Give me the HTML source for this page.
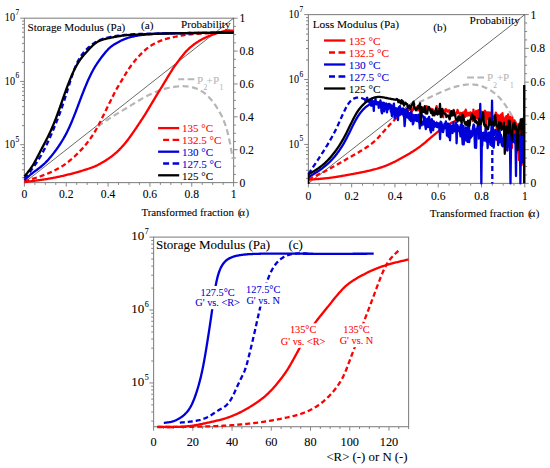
<!DOCTYPE html>
<html><head><meta charset="utf-8"><style>
html,body{margin:0;padding:0;background:#fff;}
svg{display:block;}
text{font-family:"Liberation Serif", serif; stroke-width:0.08px;}
</style></head><body>
<svg width="550" height="468" viewBox="0 0 550 468">
<rect width="550" height="468" fill="#fff"/>
<rect x="24.4" y="18.2" width="209.2" height="164.4" fill="none" stroke="#858585" stroke-width="1.1"/>
<path d="M24.4,177.72 h-2.4 M24.4,169.82 h-2.4 M24.4,163.7 h-2.4 M24.4,158.69 h-2.4 M24.4,154.46 h-2.4 M24.4,150.79 h-2.4 M24.4,147.55 h-2.4 M24.4,144.66 h-4.2 M24.4,125.63 h-2.4 M24.4,114.49 h-2.4 M24.4,106.59 h-2.4 M24.4,100.47 h-2.4 M24.4,95.46 h-2.4 M24.4,91.23 h-2.4 M24.4,87.56 h-2.4 M24.4,84.32 h-2.4 M24.4,81.43 h-4.2 M24.4,62.4 h-2.4 M24.4,51.26 h-2.4 M24.4,43.36 h-2.4 M24.4,37.23 h-2.4 M24.4,32.23 h-2.4 M24.4,27.99 h-2.4 M24.4,24.33 h-2.4 M24.4,21.09 h-2.4 M24.4,18.2 h-4.2 M24.4,182.6 v4.0 M233.6,182.6 h4.0 M34.86,182.6 v2.3 M233.6,174.38 h2.3 M45.32,182.6 v2.3 M233.6,166.16 h2.3 M55.78,182.6 v2.3 M233.6,157.94 h2.3 M66.24,182.6 v4.0 M233.6,149.72 h4.0 M76.7,182.6 v2.3 M233.6,141.5 h2.3 M87.16,182.6 v2.3 M233.6,133.28 h2.3 M97.62,182.6 v2.3 M233.6,125.06 h2.3 M108.08,182.6 v4.0 M233.6,116.84 h4.0 M118.54,182.6 v2.3 M233.6,108.62 h2.3 M129,182.6 v2.3 M233.6,100.4 h2.3 M139.46,182.6 v2.3 M233.6,92.18 h2.3 M149.92,182.6 v4.0 M233.6,83.96 h4.0 M160.38,182.6 v2.3 M233.6,75.74 h2.3 M170.84,182.6 v2.3 M233.6,67.52 h2.3 M181.3,182.6 v2.3 M233.6,59.3 h2.3 M191.76,182.6 v4.0 M233.6,51.08 h4.0 M202.22,182.6 v2.3 M233.6,42.86 h2.3 M212.68,182.6 v2.3 M233.6,34.64 h2.3 M223.14,182.6 v2.3 M233.6,26.42 h2.3 M233.6,182.6 v4.0 M233.6,18.2 h4.0" fill="none" stroke="#858585" stroke-width="1"/>
<path d="M24.4,182.6 L233.6,18.2" stroke="#444" stroke-width="0.8"/>
<path d="M98,126.49 98.9,125.81 99.8,125.13 100.7,124.46 101.6,123.81 102.5,123.16 103.4,122.52 104.3,121.9 105.2,121.28 106.1,120.68 107,120.08 107.9,119.49 108.8,118.9 109.7,118.32 110.6,117.75 111.5,117.19 112.4,116.63 113.3,116.08 114.2,115.52 115.1,114.98 116,114.43 116.9,113.89 117.8,113.35 118.7,112.81 119.6,112.28 120.5,111.74 121.4,111.2 122.3,110.67 123.2,110.13 124.1,109.59 125,109.04 125.9,108.5 126.8,107.95 127.7,107.4 128.6,106.84 129.5,106.29 130.4,105.73 131.3,105.17 132.2,104.61 133.1,104.05 134,103.5 134.9,102.94 135.8,102.39 136.7,101.84 137.6,101.29 138.5,100.75 139.4,100.21 140.3,99.68 141.2,99.16 142.1,98.64 143,98.13 143.9,97.63 144.8,97.14 145.7,96.66 146.6,96.18 147.5,95.72 148.4,95.27 149.3,94.82 150.2,94.39 151.1,93.96 152,93.55 152.9,93.15 153.8,92.75 154.7,92.37 155.6,92 156.5,91.64 157.4,91.29 158.3,90.95 159.2,90.62 160.1,90.3 161,90 161.9,89.7 162.8,89.42 163.7,89.15 164.6,88.89 165.5,88.64 166.4,88.4 167.3,88.18 168.2,87.96 169.1,87.76 170,87.57 170.9,87.4 171.8,87.23 172.7,87.08 173.6,86.94 174.5,86.81 175.4,86.69 176.3,86.59 177.2,86.5 178.1,86.42 179,86.35 179.9,86.3 180.8,86.26 181.7,86.23 182.6,86.22 183.5,86.22 184.4,86.24 185.3,86.28 186.2,86.33 187.1,86.41 188,86.51 188.9,86.62 189.8,86.77 190.7,86.93 191.6,87.12 192.5,87.34 193.4,87.58 194.3,87.85 195.2,88.15 196.1,88.48 197,88.84 197.9,89.23 198.8,89.65 199.7,90.1 200.6,90.59 201.5,91.11 202.4,91.68 203.3,92.28 204.2,92.93 205.1,93.63 206,94.38 206.9,95.17 207.8,96.02 208.7,96.93 209.6,97.89 210.2,98.56 210.8,99.25 211.4,99.97 212,100.71 212.6,101.47 213.2,102.26 213.8,103.06 214.4,103.89 215,104.73 215.6,105.6 216.2,106.48 216.8,107.39 217.4,108.32 218,109.28 218.6,110.27 219.2,111.3 219.8,112.36 220.4,113.46 221,114.61 221.6,115.81 222.2,117.06 222.8,118.38 223.4,119.77 224,121.24 224.6,122.81 225.2,124.48 225.5,125.36 225.8,126.27 226.1,127.2 226.4,128.17 226.7,129.18 227,130.22 227.3,131.31 227.6,132.44 227.9,133.61 228.2,134.84 228.5,136.11 228.8,137.43 229.1,138.81 229.4,140.25 229.7,141.74 230,143.28 230.3,144.87 230.6,146.51 230.9,148.18 231.2,149.9 231.5,151.65 231.8,153.43 232.1,155.25 232.4,157.08 232.7,158.92 232.7,158.92" fill="none" stroke="#b6b6b6" stroke-width="2.2" stroke-dasharray="6,3.5" stroke-linejoin="round" stroke-linecap="butt"/>
<path d="M24.4,182.1 25.3,181.99 26.2,181.87 27.1,181.76 28,181.64 28.9,181.52 29.8,181.41 30.7,181.29 31.6,181.17 32.5,181.06 33.4,180.94 34.3,180.82 35.2,180.7 36.1,180.58 37,180.46 37.9,180.34 38.8,180.22 39.7,180.09 40.6,179.97 41.5,179.84 42.4,179.71 43.3,179.57 44.2,179.44 45.1,179.3 46,179.16 46.9,179.02 47.8,178.87 48.7,178.72 49.6,178.56 50.5,178.4 51.4,178.24 52.3,178.07 53.2,177.9 54.1,177.73 55,177.55 55.9,177.37 56.8,177.18 57.7,176.99 58.6,176.8 59.5,176.61 60.4,176.41 61.3,176.21 62.2,176 63.1,175.79 64,175.58 64.9,175.37 65.8,175.15 66.7,174.93 67.6,174.71 68.5,174.48 69.4,174.26 70.3,174.02 71.2,173.79 72.1,173.55 73,173.31 73.9,173.07 74.8,172.83 75.7,172.58 76.6,172.33 77.5,172.08 78.4,171.82 79.3,171.56 80.2,171.3 81.1,171.04 82,170.77 82.9,170.49 83.8,170.22 84.7,169.94 85.6,169.66 86.5,169.37 87.4,169.08 88.3,168.78 89.2,168.48 90.1,168.17 91,167.85 91.9,167.53 92.8,167.18 93.7,166.83 94.6,166.46 95.5,166.07 96.4,165.67 97.3,165.24 98.2,164.8 99.1,164.33 100,163.86 100.9,163.36 101.8,162.85 102.7,162.32 103.6,161.78 104.5,161.23 105.4,160.66 106.3,160.08 107.2,159.49 108.1,158.88 109,158.26 109.9,157.63 110.8,156.97 111.7,156.3 112.6,155.61 113.5,154.89 114.4,154.16 115.3,153.39 116.2,152.61 117.1,151.79 118,150.95 118.9,150.07 119.8,149.17 120.7,148.24 121.6,147.28 122.5,146.28 123.1,145.61 123.7,144.92 124.3,144.21 124.9,143.5 125.5,142.77 126.1,142.03 126.7,141.27 127.3,140.5 127.9,139.72 128.5,138.92 129.1,138.12 129.7,137.3 130.3,136.47 130.9,135.63 131.5,134.78 132.1,133.92 132.7,133.06 133.3,132.19 133.9,131.32 134.5,130.44 135.1,129.55 135.7,128.66 136.3,127.77 136.9,126.88 137.5,125.99 138.1,125.09 138.7,124.2 139.3,123.3 139.9,122.4 140.5,121.5 141.1,120.6 141.7,119.69 142.3,118.77 142.9,117.85 143.5,116.92 144.1,115.98 144.7,115.03 145.3,114.08 145.9,113.12 146.5,112.14 147.1,111.16 147.7,110.16 148.3,109.16 148.9,108.16 149.5,107.15 150.1,106.13 150.7,105.12 151.3,104.1 151.9,103.08 152.5,102.07 153.1,101.05 153.7,100.04 154.3,99.04 154.9,98.04 155.5,97.05 156.1,96.06 156.7,95.08 157.3,94.1 157.9,93.12 158.5,92.14 159.1,91.17 159.7,90.2 160.3,89.23 160.9,88.26 161.5,87.29 162.1,86.31 162.7,85.34 163.3,84.37 163.9,83.39 164.5,82.41 165.1,81.42 165.7,80.44 166.3,79.44 166.9,78.45 167.5,77.45 168.1,76.45 168.7,75.46 169.3,74.47 169.9,73.48 170.5,72.51 171.1,71.54 171.7,70.59 172.3,69.65 172.9,68.73 173.5,67.83 174.1,66.95 174.7,66.08 175.3,65.23 175.9,64.39 176.5,63.57 177.1,62.75 177.7,61.95 178.3,61.15 178.9,60.36 179.5,59.57 180.1,58.79 180.7,58.01 181.3,57.24 181.9,56.47 182.5,55.71 183.1,54.97 183.7,54.23 184.3,53.51 184.9,52.81 185.5,52.12 186.4,51.13 187.3,50.19 188.2,49.29 189.1,48.44 190,47.63 190.9,46.85 191.8,46.11 192.7,45.39 193.6,44.71 194.5,44.05 195.4,43.41 196.3,42.79 197.2,42.2 198.1,41.62 199,41.06 199.9,40.52 200.8,40 201.7,39.5 202.6,39.01 203.5,38.55 204.4,38.11 205.3,37.68 206.2,37.27 207.1,36.88 208,36.5 208.9,36.14 209.8,35.79 210.7,35.44 211.6,35.11 212.5,34.78 213.4,34.46 214.3,34.14 215.2,33.82 216.1,33.51 217,33.21 217.9,32.91 218.8,32.62 219.7,32.34 220.6,32.08 221.5,31.82 222.4,31.58 223.3,31.36 224.2,31.15 225.1,30.96 226,30.8 226.9,30.67 227.8,30.58 228.7,30.52 229.6,30.51 230.5,30.54 231.4,30.62 232.3,30.73 233.2,30.85 233.6,30.91" fill="none" stroke="#ff0000" stroke-width="2.3" stroke-linejoin="round" stroke-linecap="butt"/>
<path d="M24.4,181.3 25.3,181.03 26.2,180.77 27.1,180.5 28,180.23 28.9,179.96 29.8,179.69 30.7,179.42 31.6,179.14 32.5,178.86 33.4,178.59 34.3,178.3 35.2,178.02 36.1,177.73 37,177.44 37.9,177.14 38.8,176.84 39.7,176.53 40.6,176.22 41.5,175.91 42.4,175.59 43.3,175.26 44.2,174.93 45.1,174.59 46,174.24 46.9,173.89 47.8,173.53 48.7,173.16 49.6,172.78 50.5,172.39 51.4,171.99 52.3,171.58 53.2,171.16 54.1,170.73 55,170.28 55.9,169.82 56.8,169.35 57.7,168.86 58.6,168.36 59.5,167.84 60.4,167.31 61.3,166.76 62.2,166.19 63.1,165.6 64,165 64.9,164.37 65.8,163.73 66.7,163.07 67.6,162.38 68.5,161.68 69.4,160.96 70.3,160.23 71.2,159.47 72.1,158.69 73,157.9 73.9,157.09 74.8,156.25 75.7,155.4 76.6,154.53 77.5,153.64 78.4,152.74 79.3,151.81 80.2,150.87 81.1,149.91 82,148.93 82.9,147.92 83.5,147.24 84.1,146.55 84.7,145.85 85.3,145.14 85.9,144.41 86.5,143.67 87.1,142.91 87.7,142.15 88.3,141.36 88.9,140.56 89.5,139.75 90.1,138.92 90.7,138.07 91.3,137.2 91.9,136.31 92.5,135.41 93.1,134.48 93.7,133.54 94.3,132.57 94.9,131.58 95.5,130.57 96.1,129.54 96.7,128.48 97.3,127.4 97.9,126.29 98.5,125.17 99.1,124.02 99.7,122.86 100.3,121.68 100.9,120.48 101.5,119.28 102.1,118.06 102.7,116.84 103.3,115.61 103.9,114.38 104.5,113.14 105.1,111.91 105.7,110.67 106.3,109.44 106.9,108.22 107.5,107 108.1,105.78 108.7,104.56 109.3,103.35 109.9,102.14 110.5,100.93 111.1,99.72 111.7,98.51 112.3,97.3 112.9,96.11 113.5,94.92 114.1,93.74 114.7,92.58 115.3,91.44 115.9,90.32 116.5,89.23 117.1,88.16 117.7,87.1 118.3,86.07 118.9,85.04 119.5,84.03 120.1,83.03 120.7,82.03 121.3,81.04 121.9,80.04 122.5,79.04 123.1,78.03 123.7,77.03 124.3,76.03 124.9,75.03 125.5,74.05 126.1,73.07 126.7,72.11 127.3,71.16 127.9,70.23 128.5,69.32 129.1,68.43 129.7,67.56 130.3,66.72 130.9,65.88 131.5,65.07 132.1,64.28 132.7,63.5 133.3,62.73 133.9,61.98 134.5,61.24 135.1,60.52 135.7,59.81 136.3,59.11 136.9,58.42 137.5,57.75 138.4,56.75 139.3,55.77 140.2,54.81 141.1,53.88 142,52.97 142.9,52.09 143.8,51.24 144.7,50.42 145.6,49.64 146.5,48.89 147.4,48.18 148.3,47.5 149.2,46.85 150.1,46.23 151,45.64 151.9,45.07 152.8,44.53 153.7,44.02 154.6,43.52 155.5,43.05 156.4,42.6 157.3,42.17 158.2,41.76 159.1,41.37 160,41.01 160.9,40.66 161.8,40.33 162.7,40.02 163.6,39.72 164.5,39.44 165.4,39.17 166.3,38.91 167.2,38.67 168.1,38.43 169,38.2 169.9,37.98 170.8,37.77 171.7,37.56 172.6,37.35 173.5,37.15 174.4,36.95 175.3,36.75 176.2,36.56 177.1,36.37 178,36.19 178.9,36.01 179.8,35.84 180.7,35.68 181.6,35.53 182.5,35.38 183.4,35.24 184.3,35.1 185.2,34.98 186.1,34.86 187,34.75 187.9,34.65 188.8,34.55 189.7,34.46 190.6,34.38 191.5,34.3 192.4,34.22 193.3,34.15 194.2,34.08 195.1,34.01 196,33.95 196.9,33.89 197.8,33.83 198.7,33.77 199.6,33.71 200.5,33.66 201.4,33.61 202.3,33.56 203.2,33.51 204.1,33.47 205,33.42 205.9,33.38 206.8,33.34 207.7,33.3 208.6,33.26 209.5,33.22 210.4,33.18 211.3,33.15 212.2,33.11 213.1,33.08 214,33.05 214.9,33.02 215.8,32.99 216.7,32.96 217.6,32.93 218.5,32.9 219.4,32.87 220.3,32.85 221.2,32.82 222.1,32.79 223,32.77 223.9,32.74 224.8,32.72 225.7,32.7 226.6,32.67 227.5,32.65 228.4,32.63 229.3,32.6 230.2,32.58 231.1,32.56 232,32.54 232.9,32.52 233.6,32.5" fill="none" stroke="#ff0000" stroke-width="2.3" stroke-dasharray="5,3" stroke-linejoin="round" stroke-linecap="butt"/>
<path d="M24.4,180.26 25.3,179.4 26.2,178.53 27.1,177.68 28,176.85 28.9,176.03 29.8,175.24 30.7,174.48 31.6,173.75 32.5,173.04 33.4,172.36 34.3,171.69 35.2,171.02 36.1,170.36 37,169.71 37.9,169.04 38.8,168.37 39.7,167.68 40.6,166.98 41.5,166.25 42.4,165.49 43.3,164.69 44.2,163.86 45.1,163 46,162.1 46.9,161.16 47.8,160.2 48.7,159.2 49.3,158.52 49.9,157.82 50.5,157.11 51.1,156.39 51.7,155.65 52.3,154.9 52.9,154.14 53.5,153.37 54.1,152.59 54.7,151.79 55.3,150.98 55.9,150.17 56.5,149.34 57.1,148.5 57.7,147.65 58.3,146.78 58.9,145.9 59.5,145.01 60.1,144.1 60.7,143.17 61.3,142.22 61.9,141.25 62.5,140.26 63.1,139.25 63.7,138.22 64.3,137.16 64.9,136.08 65.5,134.97 66.1,133.84 66.7,132.67 67.3,131.48 67.9,130.26 68.5,129 69.1,127.72 69.7,126.4 70.3,125.05 70.9,123.67 71.5,122.27 72.1,120.84 72.7,119.38 73.3,117.9 73.9,116.41 74.5,114.89 75.1,113.35 75.7,111.81 76.3,110.24 76.9,108.67 77.5,107.09 78.1,105.5 78.7,103.9 79.3,102.31 79.9,100.71 80.5,99.12 81.1,97.53 81.7,95.96 82.3,94.39 82.9,92.84 83.5,91.3 84.1,89.79 84.7,88.29 85.3,86.82 85.9,85.37 86.5,83.94 87.1,82.54 87.7,81.16 88.3,79.81 88.9,78.49 89.5,77.19 90.1,75.93 90.7,74.69 91.3,73.49 91.9,72.31 92.5,71.17 93.1,70.06 93.7,68.99 94.3,67.95 94.9,66.94 95.5,65.96 96.1,65 96.7,64.07 97.3,63.17 97.9,62.28 98.5,61.42 99.1,60.57 99.7,59.73 100.3,58.91 100.9,58.11 101.5,57.31 102.1,56.52 102.7,55.74 103.3,54.96 103.9,54.2 104.5,53.46 105.1,52.73 105.7,52.01 106.3,51.32 106.9,50.65 107.8,49.68 108.7,48.77 109.6,47.93 110.5,47.15 111.4,46.43 112.3,45.75 113.2,45.13 114.1,44.54 115,43.98 115.9,43.44 116.8,42.92 117.7,42.41 118.6,41.92 119.5,41.45 120.4,40.99 121.3,40.55 122.2,40.13 123.1,39.73 124,39.34 124.9,38.98 125.8,38.64 126.7,38.31 127.6,38.01 128.5,37.72 129.4,37.44 130.3,37.19 131.2,36.95 132.1,36.72 133,36.51 133.9,36.3 134.8,36.12 135.7,35.94 136.6,35.77 137.5,35.61 138.4,35.47 139.3,35.33 140.2,35.19 141.1,35.07 142,34.95 142.9,34.84 143.8,34.74 144.7,34.65 145.6,34.55 146.5,34.47 147.4,34.39 148.3,34.31 149.2,34.24 150.1,34.17 151,34.11 151.9,34.05 152.8,33.99 153.7,33.94 154.6,33.88 155.5,33.83 156.4,33.78 157.3,33.74 158.2,33.69 159.1,33.65 160,33.61 160.9,33.57 161.8,33.54 162.7,33.5 163.6,33.47 164.5,33.44 165.4,33.41 166.3,33.38 167.2,33.35 168.1,33.33 169,33.3 169.9,33.28 170.8,33.26 171.7,33.24 172.6,33.22 173.5,33.2 174.4,33.19 175.3,33.17 176.2,33.16 177.1,33.14 178,33.13 178.9,33.12 179.8,33.11 180.7,33.09 181.6,33.08 182.5,33.07 183.4,33.06 184.3,33.06 185.2,33.05 186.1,33.04 187,33.03 187.9,33.02 188.8,33.01 189.7,33 190.6,32.99 191.5,32.98 192.4,32.98 193.3,32.97 194.2,32.96 195.1,32.95 196,32.94 196.9,32.93 197.8,32.92 198.7,32.91 199.6,32.9 200.5,32.89 201.4,32.88 202.3,32.87 203.2,32.86 204.1,32.85 205,32.84 205.9,32.83 206.8,32.82 207.7,32.81 208.6,32.8 209.5,32.79 210.4,32.78 211.3,32.77 212.2,32.76 213.1,32.75 214,32.74 214.9,32.73 215.8,32.72 216.7,32.71 217.6,32.7 218.5,32.69 219.4,32.67 220.3,32.66 221.2,32.65 222.1,32.64 223,32.63 223.9,32.62 224.8,32.61 225.7,32.6 226.6,32.59 227.5,32.58 228.4,32.56 229.3,32.55 230.2,32.54 231.1,32.53 232,32.52 232.9,32.51 233.6,32.5" fill="none" stroke="#0000d8" stroke-width="2.3" stroke-linejoin="round" stroke-linecap="butt"/>
<path d="M24.4,178.51 25,177.8 25.6,177.08 26.2,176.36 26.8,175.63 27.4,174.91 28,174.18 28.6,173.44 29.2,172.7 29.8,171.95 30.4,171.19 31,170.42 31.6,169.64 32.2,168.85 32.8,168.05 33.4,167.24 34,166.41 34.6,165.56 35.2,164.71 35.8,163.83 36.4,162.94 37,162.03 37.6,161.1 38.2,160.16 38.8,159.19 39.4,158.21 40,157.21 40.6,156.18 41.2,155.14 41.8,154.07 42.4,152.99 43,151.88 43.6,150.75 44.2,149.6 44.8,148.42 45.4,147.22 46,146 46.6,144.76 47.2,143.5 47.8,142.22 48.4,140.93 49,139.61 49.6,138.28 50.2,136.93 50.8,135.56 51.4,134.18 52,132.78 52.6,131.37 53.2,129.95 53.8,128.51 54.4,127.06 55,125.6 55.6,124.13 56.2,122.64 56.8,121.13 57.4,119.6 58,118.06 58.6,116.49 59.2,114.89 59.8,113.28 60.4,111.63 61,109.96 61.6,108.26 61.9,107.4 62.2,106.53 62.5,105.65 62.8,104.77 63.1,103.88 63.4,102.99 63.7,102.09 64,101.18 64.3,100.27 64.6,99.35 64.9,98.43 65.2,97.5 65.5,96.56 65.8,95.63 66.1,94.68 66.4,93.73 66.7,92.78 67,91.82 67.3,90.86 67.6,89.9 67.9,88.93 68.2,87.96 68.5,86.98 68.8,86.01 69.1,85.04 69.4,84.07 69.7,83.1 70,82.13 70.3,81.17 70.6,80.22 70.9,79.27 71.2,78.33 71.5,77.4 71.8,76.48 72.1,75.58 72.4,74.68 72.7,73.8 73,72.93 73.3,72.08 73.9,70.43 74.5,68.85 75.1,67.35 75.7,65.92 76.3,64.55 76.9,63.26 77.5,62.03 78.1,60.87 78.7,59.76 79.3,58.71 79.9,57.71 80.5,56.76 81.1,55.86 81.7,55.01 82.3,54.2 82.9,53.43 83.5,52.69 84.1,51.99 84.7,51.32 85.6,50.36 86.5,49.44 87.4,48.56 88.3,47.71 89.2,46.9 90.1,46.12 91,45.37 91.9,44.66 92.8,43.98 93.7,43.35 94.6,42.75 95.5,42.19 96.4,41.68 97.3,41.19 98.2,40.75 99.1,40.33 100,39.95 100.9,39.59 101.8,39.26 102.7,38.96 103.6,38.67 104.5,38.41 105.4,38.16 106.3,37.93 107.2,37.71 108.1,37.51 109,37.31 109.9,37.12 110.8,36.94 111.7,36.77 112.6,36.6 113.5,36.44 114.4,36.29 115.3,36.14 116.2,36 117.1,35.86 118,35.73 118.9,35.6 119.8,35.49 120.7,35.37 121.6,35.26 122.5,35.16 123.4,35.06 124.3,34.97 125.2,34.88 126.1,34.8 127,34.72 127.9,34.64 128.8,34.57 129.7,34.51 130.6,34.44 131.5,34.38 132.4,34.33 133.3,34.27 134.2,34.22 135.1,34.18 136,34.13 136.9,34.09 137.8,34.05 138.7,34.02 139.6,33.98 140.5,33.95 141.4,33.92 142.3,33.89 143.2,33.87 144.1,33.84 145,33.82 145.9,33.79 146.8,33.77 147.7,33.75 148.6,33.73 149.5,33.71 150.4,33.69 151.3,33.67 152.2,33.65 153.1,33.63 154,33.61 154.9,33.59 155.8,33.58 156.7,33.56 157.6,33.54 158.5,33.52 159.4,33.5 160.3,33.49 161.2,33.47 162.1,33.45 163,33.44 163.9,33.42 164.8,33.4 165.7,33.39 166.6,33.37 167.5,33.35 168.4,33.34 169.3,33.32 170.2,33.31 171.1,33.29 172,33.28 172.9,33.26 173.8,33.25 174.7,33.23 175.6,33.22 176.5,33.2 177.4,33.19 178.3,33.17 179.2,33.16 180.1,33.15 181,33.13 181.9,33.12 182.8,33.11 183.7,33.09 184.6,33.08 185.5,33.07 186.4,33.05 187.3,33.04 188.2,33.03 189.1,33.02 190,33 190.9,32.99 191.8,32.98 192.7,32.97 193.6,32.96 194.5,32.94 195.4,32.93 196.3,32.92 197.2,32.91 198.1,32.9 199,32.89 199.9,32.88 200.8,32.86 201.7,32.85 202.6,32.84 203.5,32.83 204.4,32.82 205.3,32.81 206.2,32.8 207.1,32.79 208,32.78 208.9,32.77 209.8,32.76 210.7,32.75 211.6,32.74 212.5,32.73 213.4,32.72 214.3,32.71 215.2,32.7 216.1,32.69 217,32.68 217.9,32.67 218.8,32.66 219.7,32.65 220.6,32.64 221.5,32.63 222.4,32.62 223.3,32.61 224.2,32.6 225.1,32.59 226,32.58 226.9,32.57 227.8,32.56 228.7,32.55 229.6,32.54 230.5,32.53 231.4,32.52 232.3,32.51 233.2,32.5 233.6,32.5" fill="none" stroke="#0000d8" stroke-width="2.3" stroke-dasharray="5,3" stroke-linejoin="round" stroke-linecap="butt"/>
<path d="M24.4,176.53 25,175.81 25.6,175.08 26.2,174.34 26.8,173.6 27.4,172.85 28,172.08 28.6,171.31 29.2,170.51 29.8,169.7 30.4,168.86 31,168 31.6,167.11 32.2,166.19 32.8,165.25 33.4,164.26 34,163.25 34.6,162.2 35.2,161.13 35.8,160.04 36.4,158.93 37,157.8 37.6,156.65 38.2,155.5 38.8,154.34 39.4,153.18 40,152.01 40.6,150.85 41.2,149.69 41.8,148.54 42.4,147.39 43,146.25 43.6,145.11 44.2,143.97 44.8,142.82 45.4,141.66 46,140.5 46.6,139.33 47.2,138.15 47.8,136.95 48.4,135.73 49,134.49 49.6,133.24 50.2,131.96 50.8,130.65 51.4,129.32 52,127.95 52.6,126.56 53.2,125.13 53.8,123.68 54.4,122.19 55,120.68 55.6,119.14 56.2,117.57 56.8,115.98 57.4,114.37 58,112.74 58.6,111.08 59.2,109.4 59.8,107.71 60.1,106.86 60.4,106 60.7,105.14 61,104.28 61.3,103.42 61.6,102.56 61.9,101.69 62.2,100.83 62.5,99.96 62.8,99.1 63.1,98.24 63.4,97.38 63.7,96.52 64,95.66 64.3,94.8 64.6,93.95 65.2,92.26 65.8,90.59 66.4,88.94 67,87.31 67.6,85.71 68.2,84.14 68.8,82.59 69.4,81.07 70,79.58 70.6,78.12 71.2,76.69 71.8,75.3 72.4,73.94 73,72.61 73.6,71.32 74.2,70.06 74.8,68.84 75.4,67.67 76,66.53 76.6,65.43 77.2,64.37 77.8,63.35 78.4,62.37 79,61.42 79.6,60.51 80.2,59.64 80.8,58.81 81.4,58 82,57.22 82.6,56.47 83.2,55.74 83.8,55.03 84.4,54.34 85,53.66 85.9,52.66 86.8,51.67 87.7,50.69 88.6,49.71 89.5,48.74 90.4,47.79 91.3,46.87 92.2,45.99 93.1,45.15 94,44.36 94.9,43.64 95.8,42.98 96.7,42.38 97.6,41.83 98.5,41.34 99.4,40.9 100.3,40.5 101.2,40.14 102.1,39.82 103,39.53 103.9,39.27 104.8,39.03 105.7,38.81 106.6,38.6 107.5,38.41 108.4,38.22 109.3,38.04 110.2,37.86 111.1,37.67 112,37.49 112.9,37.31 113.8,37.13 114.7,36.96 115.6,36.79 116.5,36.62 117.4,36.46 118.3,36.3 119.2,36.15 120.1,36 121,35.86 121.9,35.73 122.8,35.61 123.7,35.49 124.6,35.39 125.5,35.29 126.4,35.2 127.3,35.12 128.2,35.04 129.1,34.97 130,34.91 130.9,34.85 131.8,34.8 132.7,34.75 133.6,34.7 134.5,34.66 135.4,34.62 136.3,34.58 137.2,34.54 138.1,34.5 139,34.46 139.9,34.43 140.8,34.39 141.7,34.36 142.6,34.32 143.5,34.28 144.4,34.25 145.3,34.21 146.2,34.18 147.1,34.14 148,34.11 148.9,34.07 149.8,34.04 150.7,34.01 151.6,33.98 152.5,33.94 153.4,33.91 154.3,33.88 155.2,33.85 156.1,33.82 157,33.79 157.9,33.76 158.8,33.74 159.7,33.71 160.6,33.68 161.5,33.66 162.4,33.63 163.3,33.61 164.2,33.59 165.1,33.56 166,33.54 166.9,33.52 167.8,33.5 168.7,33.48 169.6,33.46 170.5,33.44 171.4,33.42 172.3,33.4 173.2,33.39 174.1,33.37 175,33.35 175.9,33.34 176.8,33.32 177.7,33.31 178.6,33.29 179.5,33.28 180.4,33.26 181.3,33.25 182.2,33.24 183.1,33.22 184,33.21 184.9,33.2 185.8,33.18 186.7,33.17 187.6,33.16 188.5,33.15 189.4,33.14 190.3,33.12 191.2,33.11 192.1,33.1 193,33.09 193.9,33.08 194.8,33.07 195.7,33.06 196.6,33.04 197.5,33.03 198.4,33.02 199.3,33.01 200.2,33 201.1,32.99 202,32.97 202.9,32.96 203.8,32.95 204.7,32.94 205.6,32.92 206.5,32.91 207.4,32.9 208.3,32.89 209.2,32.87 210.1,32.86 211,32.85 211.9,32.83 212.8,32.82 213.7,32.81 214.6,32.79 215.5,32.78 216.4,32.77 217.3,32.75 218.2,32.74 219.1,32.73 220,32.71 220.9,32.7 221.8,32.68 222.7,32.67 223.6,32.66 224.5,32.64 225.4,32.63 226.3,32.61 227.2,32.6 228.1,32.59 229,32.57 229.9,32.56 230.8,32.54 231.7,32.53 232.6,32.52 233.5,32.5 233.6,32.5" fill="none" stroke="#000000" stroke-width="2.3" stroke-linejoin="round" stroke-linecap="butt"/>
<rect x="308.4" y="14.6" width="216.4" height="168.8" fill="none" stroke="#858585" stroke-width="1.1"/>
<path d="M308.4,178.39 h-2.4 M308.4,170.28 h-2.4 M308.4,163.99 h-2.4 M308.4,158.85 h-2.4 M308.4,154.5 h-2.4 M308.4,150.74 h-2.4 M308.4,147.42 h-2.4 M308.4,144.45 h-4.2 M308.4,124.9 h-2.4 M308.4,113.47 h-2.4 M308.4,105.36 h-2.4 M308.4,99.07 h-2.4 M308.4,93.93 h-2.4 M308.4,89.58 h-2.4 M308.4,85.81 h-2.4 M308.4,82.49 h-2.4 M308.4,79.52 h-4.2 M308.4,59.98 h-2.4 M308.4,48.55 h-2.4 M308.4,40.44 h-2.4 M308.4,34.14 h-2.4 M308.4,29 h-2.4 M308.4,24.66 h-2.4 M308.4,20.89 h-2.4 M308.4,17.57 h-2.4 M308.4,14.6 h-4.2 M308.4,183.4 v4.0 M524.8,183.4 h4.0 M319.22,183.4 v2.3 M524.8,174.96 h2.3 M330.04,183.4 v2.3 M524.8,166.52 h2.3 M340.86,183.4 v2.3 M524.8,158.08 h2.3 M351.68,183.4 v4.0 M524.8,149.64 h4.0 M362.5,183.4 v2.3 M524.8,141.2 h2.3 M373.32,183.4 v2.3 M524.8,132.76 h2.3 M384.14,183.4 v2.3 M524.8,124.32 h2.3 M394.96,183.4 v4.0 M524.8,115.88 h4.0 M405.78,183.4 v2.3 M524.8,107.44 h2.3 M416.6,183.4 v2.3 M524.8,99 h2.3 M427.42,183.4 v2.3 M524.8,90.56 h2.3 M438.24,183.4 v4.0 M524.8,82.12 h4.0 M449.06,183.4 v2.3 M524.8,73.68 h2.3 M459.88,183.4 v2.3 M524.8,65.24 h2.3 M470.7,183.4 v2.3 M524.8,56.8 h2.3 M481.52,183.4 v4.0 M524.8,48.36 h4.0 M492.34,183.4 v2.3 M524.8,39.92 h2.3 M503.16,183.4 v2.3 M524.8,31.48 h2.3 M513.98,183.4 v2.3 M524.8,23.04 h2.3 M524.8,183.4 v4.0 M524.8,14.6 h4.0" fill="none" stroke="#858585" stroke-width="1"/>
<path d="M308.4,183.4 L524.8,14.6" stroke="#444" stroke-width="0.8"/>
<path d="M410,106 410.9,105.65 411.8,105.29 412.7,104.93 413.6,104.56 414.5,104.2 415.4,103.82 416.3,103.45 417.2,103.06 418.1,102.68 419,102.29 419.9,101.89 420.8,101.5 421.7,101.1 422.6,100.69 423.5,100.28 424.4,99.87 425.3,99.46 426.2,99.05 427.1,98.63 428,98.21 428.9,97.79 429.8,97.36 430.7,96.94 431.6,96.51 432.5,96.09 433.4,95.66 434.3,95.24 435.2,94.81 436.1,94.39 437,93.97 437.9,93.55 438.8,93.13 439.7,92.72 440.6,92.32 441.5,91.92 442.4,91.52 443.3,91.13 444.2,90.75 445.1,90.38 446,90.01 446.9,89.66 447.8,89.31 448.7,88.97 449.6,88.65 450.5,88.33 451.4,88.02 452.3,87.73 453.2,87.44 454.1,87.17 455,86.91 455.9,86.66 456.8,86.42 457.7,86.19 458.6,85.97 459.5,85.77 460.4,85.58 461.3,85.4 462.2,85.23 463.1,85.08 464,84.93 464.9,84.81 465.8,84.69 466.7,84.6 467.6,84.52 468.5,84.46 469.4,84.42 470.3,84.4 471.2,84.41 472.1,84.44 473,84.49 473.9,84.57 474.8,84.67 475.7,84.79 476.6,84.94 477.5,85.11 478.4,85.3 479.3,85.52 480.2,85.76 481.1,86.03 482,86.33 482.9,86.64 483.8,86.99 484.7,87.36 485.6,87.75 486.5,88.17 487.4,88.62 488.3,89.09 489.2,89.59 490.1,90.12 491,90.68 491.9,91.27 492.8,91.89 493.7,92.54 494.6,93.24 495.5,93.97 496.4,94.75 497.3,95.57 498.2,96.44 499.1,97.35 500,98.31 500.6,98.98 501.2,99.68 501.8,100.4 502.4,101.14 503,101.91 503.6,102.71 504.2,103.53 504.8,104.37 505.4,105.23 506,106.12 506.6,107.02 507.2,107.95 507.8,108.89 508.4,109.84 509,110.82 509.6,111.8 510.2,112.8 510.8,113.81 511.4,114.82 512,115.85 512.6,116.88 513.2,117.92 513.8,118.96 514.4,120.03 515,121.16 515.6,122.36 516.2,123.68 516.8,125.13 517.4,126.76 517.7,127.64 518,128.57 518.3,129.57 518.6,130.62 518.9,131.74 519.2,132.94 519.5,134.2 519.8,135.55 520.1,136.97 520.4,138.49 520.7,140.09 521,141.79 521.3,143.59 521.6,145.47 521.9,147.43 522.2,149.46 522.5,151.53 522.8,153.65 523.1,155.79 523.4,157.95 523.5,158.67" fill="none" stroke="#b6b6b6" stroke-width="2.2" stroke-dasharray="6,3.5" stroke-linejoin="round" stroke-linecap="butt"/>
<path d="M308.4,179.7 309.3,179.64 310.2,179.58 311.1,179.52 312,179.45 312.9,179.39 313.8,179.33 314.7,179.26 315.6,179.19 316.5,179.13 317.4,179.06 318.3,178.98 319.2,178.91 320.1,178.83 321,178.76 321.9,178.68 322.8,178.59 323.7,178.51 324.6,178.42 325.5,178.32 326.4,178.23 327.3,178.12 328.2,178.02 329.1,177.91 330,177.8 330.9,177.68 331.8,177.56 332.7,177.43 333.6,177.31 334.5,177.17 335.4,177.04 336.3,176.9 337.2,176.75 338.1,176.61 339,176.46 339.9,176.31 340.8,176.15 341.7,176 342.6,175.84 343.5,175.68 344.4,175.52 345.3,175.36 346.2,175.2 347.1,175.03 348,174.87 348.9,174.7 349.8,174.54 350.7,174.37 351.6,174.21 352.5,174.04 353.4,173.87 354.3,173.71 355.2,173.54 356.1,173.37 357,173.2 357.9,173.03 358.8,172.85 359.7,172.68 360.6,172.5 361.5,172.32 362.4,172.14 363.3,171.95 364.2,171.77 365.1,171.58 366,171.38 366.9,171.19 367.8,170.99 368.7,170.79 369.6,170.58 370.5,170.37 371.4,170.16 372.3,169.94 373.2,169.71 374.1,169.48 375,169.24 375.9,169 376.8,168.75 377.7,168.49 378.6,168.22 379.5,167.94 380.4,167.66 381.3,167.36 382.2,167.06 383.1,166.74 384,166.42 384.9,166.08 385.8,165.74 386.7,165.38 387.6,165 388.5,164.62 389.4,164.23 390.3,163.82 391.2,163.41 392.1,162.98 393,162.55 393.9,162.11 394.8,161.66 395.7,161.2 396.6,160.73 397.5,160.26 398.4,159.78 399.3,159.3 400.2,158.81 401.1,158.31 402,157.81 402.9,157.31 403.8,156.8 404.7,156.29 405.6,155.78 406.5,155.26 407.4,154.74 408.3,154.21 409.2,153.68 410.1,153.14 411,152.6 411.9,152.04 412.8,151.48 413.7,150.91 414.6,150.33 415.5,149.73 416.4,149.13 417.3,148.51 418.2,147.88 419.1,147.23 420,146.57 420.9,145.89 421.8,145.2 422.7,144.49 423.6,143.76 424.5,143.02 425.4,142.26 426.3,141.5 427.2,140.72 428.1,139.94 429,139.16 429.9,138.37 430.8,137.59 431.7,136.81 432.6,136.03 433.5,135.27 434.4,134.51 435.3,133.77 436.2,133.05 437.1,132.34 438,131.64 438.9,130.96 439.8,130.3 440.7,129.65 441.6,129.02 442.5,128.4 443.4,127.79 444.3,127.2 445.2,126.62 446.1,126.05 447,125.49 447.9,124.95 448.8,124.41 449.7,123.89 450.6,123.37 451.5,122.87 452.4,122.38 453.3,121.89 454.2,121.42 455.1,120.95 456,120.49 456.9,120.04 457.8,119.59 458.7,119.15 459.6,118.72 460.5,118.29 461.4,117.87 462.3,117.45 463.2,117.04 464.1,116.63 465,116.22 465.9,115.82 466.8,115.42 467.7,115.02 468.6,114.62 469.5,114.22 470,114 470.55,116.02 471.1,117.17 471.65,118.78 472.2,115.14 472.75,116.55 473.3,117.83 473.85,115.82 474.4,116.71 474.95,116.94 475.5,114.31 476.05,118.66 476.6,115.25 477.15,116.1 477.7,118.5 478.25,115.1 478.8,116.16 479.35,119.13 479.9,114.92 480.45,117.58 481,117.27 481.55,113.57 482.1,112.48 482.65,119.45 483.2,115.23 483.75,111.83 484.3,114.47 484.85,114.24 485.4,113.09 485.95,112.42 486.5,118.81 487.05,117.98 487.6,114.64 488.15,113.74 488.7,116 489.25,121.96 489.8,119.17 490.35,117.95 490.9,117.3 491.45,115.25 492,114.87 492.55,116.44 493.1,116.3 493.65,117.78 494.2,118.29 494.75,117.01 495.3,119.58 495.85,112.61 496.4,116.86 496.95,140 497.5,115.17 498.05,119.62 498.6,120.27 499.15,117.66 499.7,118.07 500.25,123.05 500.8,114.57 501.35,118.28 501.9,121.82 502.45,113.16 503,121.21 503.55,117.15 504.1,121.33 504.65,119.23 505.2,120.04 505.75,119.5 506.3,116.14 506.85,150 507.4,129.48 507.95,120.53 508.5,118.98 509.05,129.2 509.6,121.39 510.15,121.1 510.7,122.82 511.25,125.63 511.8,128.74 512.35,117.3 512.9,131.39 513.45,125.65 514,126.35 514.55,120.52 515.1,139.14 515.65,122.44 516.2,126.75 516.75,136.75 517.3,125.63 517.85,129.9 518.4,123.86 518.95,160 519.5,136.24 520.05,139.3 520.6,122.81 521.15,129.17 521.7,165 522.25,140.06 522.8,139.32 523.35,132.1 523.9,136.63" fill="none" stroke="#ff0000" stroke-width="2.3" stroke-linejoin="round" stroke-linecap="butt"/>
<path d="M308.4,179.2 309.3,178.78 310.2,178.37 311.1,177.95 312,177.53 312.9,177.11 313.8,176.69 314.7,176.27 315.6,175.84 316.5,175.42 317.4,174.99 318.3,174.55 319.2,174.12 320.1,173.68 321,173.24 321.9,172.79 322.8,172.34 323.7,171.89 324.6,171.43 325.5,170.97 326.4,170.5 327.3,170.02 328.2,169.54 329.1,169.06 330,168.57 330.9,168.08 331.8,167.58 332.7,167.08 333.6,166.58 334.5,166.07 335.4,165.56 336.3,165.05 337.2,164.54 338.1,164.02 339,163.5 339.9,162.99 340.8,162.47 341.7,161.95 342.6,161.43 343.5,160.91 344.4,160.39 345.3,159.88 346.2,159.36 347.1,158.84 348,158.33 348.9,157.82 349.8,157.31 350.7,156.8 351.6,156.29 352.5,155.78 353.4,155.27 354.3,154.76 355.2,154.24 356.1,153.73 357,153.2 357.9,152.68 358.8,152.15 359.7,151.61 360.6,151.07 361.5,150.53 362.4,149.97 363.3,149.41 364.2,148.84 365.1,148.26 366,147.67 366.9,147.07 367.8,146.46 368.7,145.84 369.6,145.2 370.5,144.55 371.4,143.87 372.3,143.16 373.2,142.43 374.1,141.67 375,140.88 375.9,140.04 376.8,139.17 377.7,138.26 378.6,137.31 379.5,136.33 380.4,135.32 381,134.64 381.6,133.95 382.2,133.26 382.8,132.56 383.4,131.87 384,131.17 384.6,130.48 385.2,129.79 385.8,129.1 386.4,128.43 387.3,127.42 388.2,126.44 389.1,125.46 390,124.5 390.9,123.56 391.8,122.64 392.7,121.72 393.6,120.82 394.5,119.93 395.4,119.05 396.3,118.18 397.2,117.32 398.1,116.48 399,115.67 399.9,114.91 400.8,114.2 401.7,113.55 402.6,112.95 403.5,112.42 404.4,111.93 405.3,111.48 406.2,111.07 407.1,110.68 408,110.32 408.9,109.97 409.8,109.63 410.2,109.48" fill="none" stroke="#ff0000" stroke-width="2.3" stroke-dasharray="5,3" stroke-linejoin="round" stroke-linecap="butt"/>
<path d="M410.2,109.48 410.75,109.57 411.3,109.61 411.85,111.71 412.4,109.94 412.95,110.04 413.5,107.07 414.05,107.79 414.6,106.87 415.15,108.39 415.7,109.63 416.25,109.13 416.8,108.99 417.35,106.65 417.9,110.46 418.45,107.83 419,110.01 419.55,108.68 420.1,109.33 420.65,109.15 421.2,109.93 421.75,109.9 422.3,108.69 422.85,107.57 423.4,110.46 423.95,107.78 424.5,107.38 425.05,107.93 425.6,108.24 426.15,109.45 426.7,106.25 427.25,109.34 427.8,107.77 428.35,107.71 428.9,106.85 429.45,108.65 430,108.7 430.55,110.42 431.1,108.95 431.65,111.49 432.2,111.41 432.75,109.26 433.3,111.05 433.85,110.8 434.4,111.44 434.95,111.89 435.5,110.88 436.05,110.39 436.6,106.24 437.15,109.47 437.7,112.17 438.25,109.11 438.8,113.35 439.35,113.82 439.9,109.13 440.45,113.94 441,114.31 441.55,112.35 442.1,115.09 442.65,111.67 443.2,117.24 443.75,110.53 444.3,112.08 444.85,112.21 445.4,109.4 445.95,109.21 446.5,109.93 447.05,111.69 447.6,111.59 448.15,110.4 448.7,110.31 449.25,110.46 449.8,113.84 450.35,114.43 450.9,113.77 451.45,114.85 452,111.75 452.55,112.28 453.1,111.79 453.65,109.81 454.2,111.68 454.75,112.87 455.3,114.63 455.85,112.87 456.4,113.5 456.95,113.2 457.5,109.89 458.05,111.52 458.6,112.92 459.15,113.07 459.7,113.51 460.25,117.99 460.8,113 461.35,115.24 461.9,113.23 462.45,113.53 463,112.53 463.55,114.96 464.1,113.42 464.65,111.52 465.2,116.87 465.75,109.72 466.3,112.59 466.85,112.68 467.4,113 467.95,115.55 468.5,112.92 469.05,113.21 469.6,114.68 470.15,112.64 470.7,112.35 471.25,114.75 471.8,118.16 472.35,112.94 472.9,121 473.45,109.63 474,116.62 474.55,114.88 475.1,115 475.65,112.5 476.2,110.99 476.75,114.27 477.3,115.38 477.85,116.45 478.4,110.21 478.95,120.89 479.5,113.74 480.05,118.49 480.6,113.22 481.15,111.75 481.7,113.45 482.25,111.94 482.8,112.82 483.35,117.49 483.9,112.82 484.45,112.47 485,110.76 485.55,115.08 486.1,135 486.65,115.61 487.2,112.44 487.75,118.7 488.3,114.89 488.85,112.33 489.4,114.72 489.95,114.29 490.5,112.75 491.05,114.54 491.6,113.86 492.15,116.46 492.7,116.79 493.25,117.65 493.8,116.77 494.35,116.88 494.9,118.59 495.45,120.85 496,113.4 496.55,117.03 497.1,121.61 497.65,114.93 498.2,122.14 498.75,121.81 499.3,116.4 499.85,115.97 500.4,119.37 500.95,120.4 501.5,119.04 502.05,128 502.6,118.27 503.15,120.52 503.7,123.92 504.25,121.81 504.8,121.88 505.35,122.5 505.9,123.47 506.45,118.03 507,120.86 507.55,121.89 508.1,114.41 508.65,118.71 509.2,130.86 509.75,120.83 510.3,116.86 510.85,122.77 511.4,130.56 511.95,148 512.5,128.54 513.05,123.23 513.6,126.06 514.15,130.01 514.7,132.86 515.25,126.12 515.8,133.26 516.35,134.71 516.9,129.43 517.45,129.61 518,131.7 518.55,133.99 519.1,134.27 519.65,129.86 520.2,129.06 520.75,132.55 521.3,129.67 521.85,144.9 522.4,128.27 522.95,135.51 523.5,132.06" fill="none" stroke="#ff0000" stroke-width="2.3" stroke-linejoin="round" stroke-linecap="butt"/>
<path d="M308.4,177 309.3,176.49 310.2,175.98 311.1,175.47 312,174.95 312.9,174.43 313.8,173.89 314.7,173.35 315.6,172.8 316.5,172.24 317.4,171.67 318.3,171.08 319.2,170.48 320.1,169.86 321,169.22 321.9,168.56 322.8,167.89 323.7,167.19 324.6,166.46 325.5,165.72 326.4,164.95 327.3,164.15 328.2,163.32 329.1,162.47 330,161.59 330.9,160.67 331.8,159.72 332.7,158.75 333.3,158.07 333.9,157.39 334.5,156.68 335.1,155.96 335.7,155.23 336.3,154.47 336.9,153.7 337.5,152.91 338.1,152.1 338.7,151.27 339.3,150.42 339.9,149.54 340.5,148.65 341.1,147.74 341.7,146.8 342.3,145.84 342.9,144.85 343.5,143.84 344.1,142.81 344.7,141.75 345.3,140.66 345.9,139.55 346.5,138.41 347.1,137.25 347.7,136.06 348.3,134.86 348.9,133.65 349.5,132.42 350.1,131.2 350.7,129.97 351.3,128.74 351.9,127.51 352.5,126.3 353.1,125.1 353.7,123.92 354.3,122.75 354.9,121.61 355.5,120.5 356.1,119.42 356.7,118.38 357.3,117.38 357.9,116.41 358.5,115.48 359.1,114.6 359.7,113.75 360.3,112.93 360.9,112.16 361.5,111.42 362.1,110.71 362.7,110.04 363.6,109.09 364.5,108.22 365.4,107.42 366.3,106.68 367.2,106.01 368.1,105.4 369,104.86 369.9,104.37 370.8,103.95 371.7,103.58 372.6,103.26 373.5,103 374.4,102.8 375.3,102.64 376.2,102.53 377.1,102.47 378,102.45 378.9,102.46 379.8,102.51 380.7,102.58 381.6,102.68 382.5,102.79 383.4,102.9 384,102.98 384.55,105.09 385.1,107.13 385.65,104.28 386.2,103.46 386.75,104.93 387.3,104.17 387.85,105.88 388.4,105.07 388.95,104 389.5,104.6 390.05,105.05 390.6,104.76 391.15,106.24 391.7,106.72 392.25,110.4 392.8,107.16 393.35,105.33 393.9,103.59 394.45,110.27 395,111.69 395.55,110.04 396.1,108.27 396.65,113.69 397.2,116.61 397.75,111.65 398.3,114.56 398.85,107.05 399.4,109.52 399.95,106.12 400.5,110.18 401.05,111.99 401.6,109.24 402.15,108.77 402.7,108.74 403.25,108.45 403.8,116.3 404.35,114.71 404.9,112.03 405.45,109.89 406,114.79 406.55,108.79 407.1,112.14 407.65,112.22 408.2,117.52 408.75,113.41 409.3,116.27 409.85,119.19 410.4,113.91 410.95,121.16 411.5,117.46 412.05,114.64 412.6,114.72 413.15,118.13 413.7,115.32 414.25,117.39 414.8,119.32 415.35,115.2 415.9,120.64 416.45,115.05 417,121.08 417.55,115.9 418.1,116.84 418.65,114.7 419.2,119.05 419.75,128.44 420.3,119.99 420.85,118.79 421.4,113.8 421.95,115.14 422.5,116.36 423.05,116.14 423.6,116.74 424.15,123.73 424.7,117.35 425.25,125.59 425.8,129.14 426.35,121.4 426.9,120.22 427.45,118.56 428,120.11 428.55,120.36 429.1,116.79 429.65,120.47 430.2,124.46 430.75,130.3 431.3,127.91 431.85,119.11 432.4,123.92 432.95,126.36 433.5,121.57 434.05,125.68 434.6,126.76 435.15,125.06 435.7,124.17 436.25,125.36 436.8,126.54 437.35,123.28 437.9,126.99 438.45,123.51 439,124.86 439.55,128.18 440.1,139.13 440.65,121.69 441.2,124.6 441.75,124.65 442.3,130.71 442.85,131.74 443.4,125.92 443.95,127.2 444.5,123.66 445.05,127.73 445.6,126.66 446.15,125.76 446.7,126.72 447.25,127.98 447.8,123.84 448.35,126.57 448.9,128.57 449.45,130.33 450,140.31 450.55,130.85 451.1,126.88 451.65,132.16 452.2,126.59 452.75,129.43 453.3,130.38 453.85,126.45 454.4,127.71 454.95,131.23 455.5,130.15 456.05,122.82 456.6,143.25 457.15,130.42 457.7,128.45 458.25,126.6 458.8,130.98 459.35,130.5 459.9,127.31 460.45,136.38 461,127.52 461.55,129.38 462.1,134 462.65,144.28 463.2,130.65 463.75,144.37 464.3,135.69 464.85,134.76 465.4,134.03 465.95,127.29 466.5,131.85 467.05,132.06 467.6,141.88 468.15,129.69 468.7,132.6 469.25,142 469.8,131.52 470.35,138.24 470.9,131.42 471.45,135.6 472,136.09 472.55,130.63 473.1,127.1 473.65,124.53 474.2,125.71 474.75,133.79 475.3,137.36 475.85,129.55 476.4,133.63 476.95,133.49 477.5,130.78 478.05,131.11 478.6,138.7 479.15,132.6 479.7,136.2 480.25,104 480.8,131.96 481.35,183.4 481.9,132.97 482.45,138.88 483,134.8 483.55,133.07 484.1,140.65 484.65,137.83 485.2,134.4 485.75,127.13 486.3,141.4 486.85,138.34 487.4,142.13 487.95,134.85 488.5,136.33 489.05,140.7 489.6,137.97 490.15,132.85 490.7,131.66 491.25,139.29 491.8,129.11 492.35,124.1 492.9,128.78 493.45,129.5 494,135.63 494.55,132.02 495.1,132.48 495.65,130.24 496.2,132.63 496.75,134.24 497.3,131.39 497.85,135.6 498.4,131.91 498.95,142.56 499.5,130.36 500.05,133.82 500.6,141.61 501.15,136.63 501.7,138.28 502.25,142.31 502.8,146.32 503.35,142.92 503.9,141.63 504.45,134.62 505,137.91 505.55,134.62 506.1,136.23 506.65,142.72 507.2,137.22 507.75,144.68 508.3,137.35 508.85,139.48 509.4,145.35 509.95,140.83 510.5,183.4 511.05,142.99 511.6,136.92 512.15,136.66 512.7,138.26 513.25,139.07 513.8,136.86 514.35,137.03 514.9,142.92 515.45,136.14 516,176 516.55,133.71 517.1,145.38 517.65,139.43 518.2,136.67 518.75,140.74 519.3,138.32 519.85,135.2 520.4,183.4 520.95,139.64 521.5,141.78 522.05,146.41 522.6,135.76 523.15,140.98 523.7,142.58" fill="none" stroke="#0000d8" stroke-width="2.3" stroke-linejoin="round" stroke-linecap="butt"/>
<path d="M308.4,173.98 309,173.08 309.6,172.18 310.2,171.28 310.8,170.39 311.4,169.5 312,168.61 312.6,167.73 313.2,166.84 313.8,165.95 314.4,165.07 315,164.18 315.6,163.29 316.2,162.39 316.8,161.5 317.4,160.6 318,159.69 318.6,158.78 319.2,157.87 319.8,156.95 320.4,156.03 321,155.1 321.6,154.17 322.2,153.23 322.8,152.29 323.4,151.34 324,150.38 324.6,149.42 325.2,148.46 325.8,147.49 326.4,146.51 327,145.53 327.6,144.54 328.2,143.54 328.8,142.53 329.4,141.51 330,140.48 330.6,139.44 331.2,138.38 331.8,137.31 332.4,136.21 333,135.1 333.6,133.98 334.2,132.83 334.8,131.65 335.4,130.46 336,129.24 336.6,128 337.2,126.73 337.8,125.43 338.4,124.11 339,122.77 339.6,121.43 340.2,120.07 340.8,118.72 341.4,117.37 342,116.03 342.6,114.71 343.2,113.41 343.8,112.13 344.4,110.89 345,109.68 345.6,108.51 346.2,107.39 346.8,106.33 347.4,105.31 348,104.36 348.6,103.46 349.2,102.64 349.8,101.88 350.4,101.2 351.3,100.32 352.2,99.59 353.1,99.01 354,98.54 354.9,98.17 355.8,97.89 356.7,97.7 357.6,97.59 358.5,97.57 359.4,97.63 360.3,97.77 361.2,97.99 362.1,98.28 363,98.61 363.9,98.98 364.8,99.37 365,99.46" fill="none" stroke="#0000d8" stroke-width="2.3" stroke-dasharray="5,3" stroke-linejoin="round" stroke-linecap="butt"/>
<path d="M365,99.46 365.55,101.3 366.1,99.69 366.65,98.62 367.2,97.65 367.75,101.3 368.3,101.16 368.85,100.7 369.4,102.57 369.95,102.7 370.5,100.12 371.05,105.55 371.6,99.28 372.15,102.28 372.7,105.84 373.25,101.83 373.8,110.86 374.35,100.53 374.9,103.79 375.45,98.58 376,102.17 376.55,104.44 377.1,103.46 377.65,102.34 378.2,102.84 378.75,107.96 379.3,103.76 379.85,105.93 380.4,100.31 380.95,104.61 381.5,111.7 382.05,113.42 382.6,108.17 383.15,102.98 383.7,105.16 384.25,111.42 384.8,106.41 385.35,104.49 385.9,108.5 386.45,104.91 387,112.33 387.55,105.06 388.1,109.24 388.65,107.9 389.2,103.81 389.75,107.24 390.3,105.46 390.85,111.6 391.4,112.02 391.95,116.02 392.5,112.82 393.05,106.85 393.6,108.37 394.15,109.26 394.7,118.1 395.25,109.4 395.8,111.7 396.35,110.91 396.9,109.97 397.45,108.77 398,120.16 398.55,110.6 399.1,109.01 399.65,114.99 400.2,112.75 400.75,110.14 401.3,112.19 401.85,110.36 402.4,114.26 402.95,114.29 403.5,113.18 404.05,114.55 404.6,126.16 405.15,119.38 405.7,111.75 406.25,111.7 406.8,115.68 407.35,117.4 407.9,111.5 408.45,115.27 409,113.1 409.55,119.71 410.1,117.19 410.65,113.72 411.2,111.34 411.75,117.06 412.3,114.87 412.85,124.42 413.4,123.11 413.95,120.13 414.5,119.57 415.05,115.34 415.6,119.05 416.15,118.04 416.7,115.11 417.25,120.61 417.8,117.64 418.35,119.63 418.9,121.94 419.45,122.58 420,121.05 420.55,120.17 421.1,124.17 421.65,125.34 422.2,121.84 422.75,121.74 423.3,121.96 423.85,124.38 424.4,117.4 424.95,119.13 425.5,119.29 426.05,122.32 426.6,122.31 427.15,119.1 427.7,127.12 428.25,119.23 428.8,126.2 429.35,127.13 429.9,121.66 430.45,129.9 431,132.45 431.55,125.6 432.1,125.37 432.65,122.42 433.2,130.27 433.75,121.38 434.3,124.23 434.85,123.11 435.4,126.14 435.95,123.26 436.5,122.52 437.05,127.16 437.6,126.87 438.15,124.04 438.7,124.49 439.25,123.85 439.8,130.41 440.35,123.17 440.9,131.58 441.45,122.58 442,128.22 442.55,125.33 443.1,132.12 443.65,128.73 444.2,128.05 444.75,127.26 445.3,127.99 445.85,121.37 446.4,125.05 446.95,135.72 447.5,129.71 448.05,123.69 448.6,137.06 449.15,126.31 449.7,124.65 450.25,128 450.8,127.18 451.35,132.43 451.9,125.7 452.45,133.18 453,130.95 453.55,122.29 454.1,130.46 454.65,131 455.2,127.18 455.75,128.72 456.3,127.86 456.85,128.25 457.4,125.25 457.95,130.5 458.5,128.03 459.05,130.82 459.6,128.25 460.15,133.51 460.7,124.93 461.25,127.62 461.8,124.49 462.35,135.68 462.9,138.94 463.45,126.01 464,129.79 464.55,131.6 465.1,132.86 465.65,132.11 466.2,140.62 466.75,138.61 467.3,128.61 467.85,128.86 468.4,126.08 468.95,125.32 469.5,134.73 470.05,134.5 470.6,131.38 471.15,137.1 471.7,132.69 472.25,134.7 472.8,133.96 473.35,130.68 473.9,128.03 474.45,134.28 475,147.66 475.55,129.63 476.1,147.9 476.65,130.8 477.2,128.34 477.75,125.73 478.3,130.83 478.85,131.98 479.4,131.91 479.95,133.5 480.5,135.06 481.05,132.08 481.6,138.51 482.15,145.62 482.7,133.76 483.25,138.05 483.8,132.65 484.35,134.23 484.9,139.78 485.45,133.6 486,133.34 486.55,135.21 487.1,133.71 487.65,148.13 488.2,133.45 488.75,132.61 489.3,141.56 489.85,135.32 490.4,144.73 490.95,140.92 491.5,132.33 492.05,100.7 492.6,135.47 493.15,144.84 493.7,147.67 494.25,140.72 494.8,137.89 495.35,138.06 495.9,139.36 496.45,133.9 497,133.05 497.55,132.6 498.1,145.01 498.65,139.99 499.2,134.34 499.75,138.75 500.3,141.94 500.85,134.94 501.4,142.53 501.95,145.25 502.5,144.73 503.05,141.8 503.6,138.61 504.15,133.73 504.7,141.03 505.25,144 505.8,141.36 506.35,139.32 506.9,141.71 507.45,150.56 508,139.75 508.55,132.5 509.1,142.02 509.65,137.94 510.2,153.47 510.75,135.68 511.3,132.03 511.85,133.27 512.4,134.78 512.95,142.22 513.5,135.21 514.05,137.68 514.6,137.69 515.15,134.31 515.7,136.41 516.25,152.81 516.8,142.22 517.35,145.45 517.9,133.9 518.45,143.22 519,144.29 519.55,137.36 520.1,150.58 520.65,141.8 521.2,137.62 521.75,148.63 522.3,162.34 522.85,143.47 523.4,142.34 523.95,141.01" fill="none" stroke="#0000d8" stroke-width="2.3" stroke-linejoin="round" stroke-linecap="butt"/>
<path d="M492.3,118 L492.3,183.4" fill="none" stroke="#0000d8" stroke-width="2.3" stroke-dasharray="5,3" stroke-linejoin="round" stroke-linecap="butt"/>
<path d="M308.4,174.21 309.3,173.72 310.2,173.22 311.1,172.73 312,172.22 312.9,171.71 313.8,171.19 314.7,170.65 315.6,170.1 316.5,169.54 317.4,168.95 318.3,168.34 319.2,167.71 320.1,167.05 321,166.36 321.9,165.65 322.8,164.9 323.7,164.13 324.6,163.33 325.5,162.49 326.4,161.63 327.3,160.74 328.2,159.81 329.1,158.85 330,157.86 330.6,157.18 331.2,156.49 331.8,155.78 332.4,155.05 333,154.31 333.6,153.56 334.2,152.79 334.8,152 335.4,151.2 336,150.38 336.6,149.54 337.2,148.69 337.8,147.81 338.4,146.92 339,146.01 339.6,145.08 340.2,144.13 340.8,143.16 341.4,142.17 342,141.16 342.6,140.13 343.2,139.08 343.8,138 344.4,136.9 345,135.78 345.6,134.64 346.2,133.47 346.8,132.27 347.4,131.06 348,129.84 348.6,128.6 349.2,127.36 349.8,126.11 350.4,124.87 351,123.63 351.6,122.4 352.2,121.18 352.8,119.99 353.4,118.81 354,117.66 354.6,116.54 355.2,115.45 355.8,114.4 356.4,113.39 357,112.42 357.6,111.5 358.2,110.62 358.8,109.78 359.4,108.98 360,108.21 360.6,107.48 361.2,106.78 362.1,105.79 363,104.87 363.9,104 364.8,103.18 365.7,102.41 366.6,101.69 367.5,101.02 368.4,100.4 369.3,99.82 370.2,99.3 371.1,98.83 372,98.4 372.9,98.04 373.8,97.72 374.7,97.46 375.6,97.25 376.5,97.1 377.4,97.01 378.3,96.96 379.2,96.96 380.1,97 381,97.08 381.9,97.19 382.8,97.32 383.7,97.47 384.6,97.64 385.5,97.82 386.4,98 387.3,98.18 388.2,98.37 389.1,98.54 390,98.71 390.9,98.88 391.8,99.05 392.7,99.21 393.6,99.37 394.5,99.54 395.4,99.69 396,99.8 396.8,98.94 397.6,99.39 398.4,102.07 399.2,100.36 400,101.75 400.8,103.54 401.6,100.24 402.4,103.5 403.2,101.5 404,105.58 404.8,104.02 405.6,102.76 406.4,104.14 407.2,104.05 408,108.04 408.8,107.61 409.6,105.71 410.4,108.83 411.2,106.38 412,104.41 412.8,103.52 413.6,101.7 414.4,108.33 415.2,108.26 416,110.41 416.8,107.91 417.6,108.2 418.4,105.64 419.2,108.36 420,103.34 420.8,123.4 421.6,107.17 422.4,109.67 423.2,111.98 424,111.85 424.8,106.23 425.6,113.39 426.4,113.33 427.2,113.59 428,107.87 428.8,106.95 429.6,108.75 430.4,110.81 431.2,113.15 432,110 432.8,115.3 433.6,112.35 434.4,115.33 435.2,113.12 436,108.35 436.8,113.83 437.6,114.49 438.4,111.44 439.2,113.32 440,104 440.8,117.08 441.6,116.45 442.4,108.88 443.2,112.64 444,113.53 444.8,113.75 445.6,113.83 446.4,116.99 447.2,115.58 448,115.39 448.8,116.88 449.6,119.43 450.4,115.69 451.2,111.07 452,115.59 452.8,114.26 453.6,110.55 454.4,115.53 455.2,115.3 456,119.63 456.8,119.52 457.6,121.53 458.4,116.5 459.2,117.93 460,120.46 460.8,117.24 461.6,123.19 462.4,114.65 463.2,115.89 464,120.18 464.8,123.26 465.6,124.44 466.4,122.12 467.2,125.11 468,120.61 468.8,125.62 469.6,125.55 470.4,119.34 471.2,118.77 472,114.09 472.8,116.19 473.6,120.14 474.4,116.59 475.2,121.98 476,120.99 476.8,123.43 477.6,122.53 478.4,125.12 479.2,118.99 480,121.96 480.8,123.73 481.6,120.56 482.4,116.92 483.2,112.73 484,124.04 484.8,126.06 485.6,124.97 486.4,127.69 487.2,127.35 488,129.28 488.8,125.59 489.6,117.85 490.4,122.14 491.2,124.99 492,124.17 492.8,121.58 493.6,122.27 494.4,125.52 495.2,115.27 496,124.22 496.8,125.2 497.6,126.98 498.4,129.59 499.2,121.96 500,128.3 500.8,122.99 501.6,129.88 502.4,127.99 503.2,127.42 504,122.86 504.8,153.8 505.6,136.17 506.4,126.48 507.2,126.66 508,133.23 508.8,120.57 509.6,120.93 510.4,133.47 511.2,133.06 512,140 512.8,126.74 513.6,123.26 514.4,122.71 515.2,129.4 516,126.08 516.8,131.27 517.6,150 518.4,132.95 519.2,125.03 520,127.91 520.8,119.34 521.6,135 522.4,118.78 523.2,129.41 524,129.52" fill="none" stroke="#000000" stroke-width="2.3" stroke-linejoin="round" stroke-linecap="butt"/>
<path d="M524.2,183.4 L524.2,85" fill="none" stroke="#000000" stroke-width="2.3" stroke-linejoin="round" stroke-linecap="butt"/>
<path d="M308.6,173 L308.6,184" fill="none" stroke="#000000" stroke-width="1.6" stroke-linejoin="round" stroke-linecap="butt"/>
<rect x="153.6" y="237.1" width="255" height="189.6" fill="none" stroke="#858585" stroke-width="1.1"/>
<path d="M153.6,421.08 h-2.4 M153.6,411.97 h-2.4 M153.6,404.9 h-2.4 M153.6,399.12 h-2.4 M153.6,394.24 h-2.4 M153.6,390.01 h-2.4 M153.6,386.28 h-2.4 M153.6,382.95 h-4.2 M153.6,360.99 h-2.4 M153.6,348.15 h-2.4 M153.6,339.04 h-2.4 M153.6,331.98 h-2.4 M153.6,326.2 h-2.4 M153.6,321.32 h-2.4 M153.6,317.09 h-2.4 M153.6,313.36 h-2.4 M153.6,310.02 h-4.2 M153.6,288.07 h-2.4 M153.6,275.23 h-2.4 M153.6,266.12 h-2.4 M153.6,259.05 h-2.4 M153.6,253.28 h-2.4 M153.6,248.4 h-2.4 M153.6,244.17 h-2.4 M153.6,240.44 h-2.4 M153.6,237.1 h-4.2 M153.6,426.7 v4.0 M163.41,426.7 v2.3 M173.22,426.7 v2.3 M183.02,426.7 v2.3 M192.83,426.7 v4.0 M202.64,426.7 v2.3 M212.45,426.7 v2.3 M222.25,426.7 v2.3 M232.06,426.7 v4.0 M241.87,426.7 v2.3 M251.68,426.7 v2.3 M261.48,426.7 v2.3 M271.29,426.7 v4.0 M281.1,426.7 v2.3 M290.91,426.7 v2.3 M300.72,426.7 v2.3 M310.52,426.7 v4.0 M320.33,426.7 v2.3 M330.14,426.7 v2.3 M339.95,426.7 v2.3 M349.75,426.7 v4.0 M359.56,426.7 v2.3 M369.37,426.7 v2.3 M379.18,426.7 v2.3 M388.98,426.7 v4.0 M398.79,426.7 v2.3 M408.6,426.7 v2.3" fill="none" stroke="#858585" stroke-width="1"/>
<path d="M157.3,426.8 158.2,426.82 159.1,426.84 160,426.86 160.9,426.88 161.8,426.9 162.7,426.92 163.6,426.93 164.5,426.95 165.4,426.96 166.3,426.97 167.2,426.98 168.1,426.99 169,426.99 169.9,427 170.8,426.99 171.7,426.99 172.6,426.99 173.5,426.98 174.4,426.96 175.3,426.95 176.2,426.93 177.1,426.9 178,426.87 178.9,426.84 179.8,426.8 180.7,426.76 181.6,426.71 182.5,426.66 183.4,426.6 184.3,426.54 185.2,426.47 186.1,426.39 187,426.31 187.9,426.22 188.8,426.12 189.7,426.02 190.6,425.91 191.5,425.8 192.4,425.67 193.3,425.54 194.2,425.4 195.1,425.26 196,425.1 196.9,424.95 197.8,424.78 198.7,424.61 199.6,424.43 200.5,424.25 201.4,424.07 202.3,423.88 203.2,423.69 204.1,423.5 205,423.3 205.9,423.11 206.8,422.91 207.7,422.71 208.6,422.52 209.5,422.32 210.4,422.12 211.3,421.93 212.2,421.73 213.1,421.53 214,421.32 214.9,421.12 215.8,420.91 216.7,420.7 217.6,420.48 218.5,420.26 219.4,420.03 220.3,419.8 221.2,419.56 222.1,419.32 223,419.06 223.9,418.8 224.8,418.53 225.7,418.26 226.6,417.97 227.5,417.67 228.4,417.37 229.3,417.05 230.2,416.72 231.1,416.38 232,416.03 232.9,415.67 233.8,415.3 234.7,414.91 235.6,414.52 236.5,414.11 237.4,413.7 238.3,413.27 239.2,412.84 240.1,412.39 241,411.94 241.9,411.47 242.8,411 243.7,410.52 244.6,410.03 245.5,409.53 246.4,409.02 247.3,408.5 248.2,407.97 249.1,407.44 250,406.89 250.9,406.34 251.8,405.77 252.7,405.2 253.6,404.62 254.5,404.04 255.4,403.44 256.3,402.83 257.2,402.22 258.1,401.59 259,400.96 259.9,400.3 260.8,399.64 261.7,398.95 262.6,398.25 263.5,397.53 264.4,396.78 265.3,396.02 266.2,395.23 267.1,394.41 268,393.57 268.9,392.7 269.8,391.8 270.7,390.87 271.6,389.92 272.5,388.94 273.4,387.94 274,387.26 274.6,386.57 275.2,385.88 275.8,385.17 276.4,384.46 277,383.73 277.6,383 278.2,382.27 278.8,381.53 279.4,380.78 280,380.02 280.6,379.26 281.2,378.49 281.8,377.71 282.4,376.92 283,376.12 283.6,375.3 284.2,374.47 284.8,373.62 285.4,372.75 286,371.86 286.6,370.95 287.2,370.02 287.8,369.07 288.4,368.09 289,367.1 289.6,366.09 290.2,365.07 290.8,364.03 291.4,362.98 292,361.92 292.6,360.85 293.2,359.77 293.8,358.68 294.4,357.59 295,356.49 295.6,355.39 296.2,354.28 296.8,353.18 297.4,352.08 298,350.98 298.6,349.88 299.2,348.79 299.8,347.7 300.4,346.62 301,345.55 301.6,344.48 302.2,343.42 302.8,342.37 303.4,341.33 304,340.29 304.6,339.26 305.2,338.24 305.8,337.23 306.4,336.22 307,335.23 307.6,334.24 308.2,333.27 308.8,332.3 309.4,331.35 310,330.41 310.6,329.47 311.2,328.55 311.8,327.64 312.4,326.74 313,325.86 313.6,324.98 314.2,324.12 314.8,323.27 315.4,322.44 316,321.62 316.6,320.81 317.2,320.01 317.8,319.22 318.4,318.45 319,317.68 319.6,316.92 320.2,316.16 320.8,315.41 321.4,314.67 322,313.93 322.6,313.2 323.2,312.47 323.8,311.74 324.4,311.01 325,310.28 325.6,309.55 326.2,308.82 326.8,308.08 327.4,307.35 328,306.61 328.6,305.86 329.2,305.11 329.8,304.36 330.4,303.6 331,302.85 331.6,302.09 332.2,301.34 332.8,300.58 333.4,299.83 334,299.08 334.6,298.33 335.2,297.59 335.8,296.86 336.4,296.12 337,295.4 337.6,294.68 338.2,293.97 338.8,293.27 339.4,292.58 340,291.9 340.9,290.91 341.8,289.94 342.7,289 343.6,288.09 344.5,287.22 345.4,286.39 346.3,285.59 347.2,284.83 348.1,284.1 349,283.4 349.9,282.73 350.8,282.09 351.7,281.47 352.6,280.87 353.5,280.29 354.4,279.72 355.3,279.18 356.2,278.64 357.1,278.12 358,277.61 358.9,277.1 359.8,276.6 360.7,276.1 361.6,275.61 362.5,275.13 363.4,274.65 364.3,274.17 365.2,273.7 366.1,273.24 367,272.79 367.9,272.34 368.8,271.9 369.7,271.47 370.6,271.05 371.5,270.63 372.4,270.23 373.3,269.83 374.2,269.45 375.1,269.07 376,268.7 376.9,268.35 377.8,268 378.7,267.66 379.6,267.33 380.5,267 381.4,266.69 382.3,266.38 383.2,266.08 384.1,265.78 385,265.49 385.9,265.21 386.8,264.94 387.7,264.67 388.6,264.41 389.5,264.15 390.4,263.89 391.3,263.65 392.2,263.4 393.1,263.16 394,262.93 394.9,262.7 395.8,262.47 396.7,262.25 397.6,262.03 398.5,261.81 399.4,261.59 400.3,261.38 401.2,261.17 402.1,260.96 403,260.76 403.9,260.55 404.8,260.35 405.7,260.15 406.6,259.95 407.5,259.74 408.4,259.54 408.6,259.5" fill="none" stroke="#ff0000" stroke-width="2.3" stroke-linejoin="round" stroke-linecap="butt"/>
<path d="M157.3,427 158.2,427 159.1,427 160,427 160.9,427 161.8,427 162.7,426.99 163.6,426.99 164.5,426.99 165.4,426.99 166.3,426.99 167.2,426.99 168.1,426.99 169,426.98 169.9,426.98 170.8,426.98 171.7,426.97 172.6,426.97 173.5,426.97 174.4,426.96 175.3,426.96 176.2,426.95 177.1,426.95 178,426.94 178.9,426.94 179.8,426.93 180.7,426.92 181.6,426.92 182.5,426.91 183.4,426.9 184.3,426.89 185.2,426.88 186.1,426.87 187,426.86 187.9,426.85 188.8,426.84 189.7,426.83 190.6,426.81 191.5,426.8 192.4,426.79 193.3,426.77 194.2,426.75 195.1,426.74 196,426.72 196.9,426.7 197.8,426.68 198.7,426.66 199.6,426.64 200.5,426.62 201.4,426.6 202.3,426.57 203.2,426.55 204.1,426.52 205,426.5 205.9,426.47 206.8,426.44 207.7,426.41 208.6,426.38 209.5,426.35 210.4,426.32 211.3,426.28 212.2,426.25 213.1,426.21 214,426.17 214.9,426.14 215.8,426.1 216.7,426.06 217.6,426.01 218.5,425.97 219.4,425.93 220.3,425.88 221.2,425.83 222.1,425.78 223,425.73 223.9,425.68 224.8,425.63 225.7,425.58 226.6,425.52 227.5,425.47 228.4,425.41 229.3,425.35 230.2,425.29 231.1,425.22 232,425.16 232.9,425.09 233.8,425.03 234.7,424.96 235.6,424.89 236.5,424.81 237.4,424.74 238.3,424.67 239.2,424.59 240.1,424.51 241,424.43 241.9,424.35 242.8,424.26 243.7,424.18 244.6,424.09 245.5,424 246.4,423.91 247.3,423.81 248.2,423.72 249.1,423.62 250,423.52 250.9,423.42 251.8,423.32 252.7,423.21 253.6,423.1 254.5,423 255.4,422.88 256.3,422.77 257.2,422.65 258.1,422.54 259,422.42 259.9,422.29 260.8,422.17 261.7,422.04 262.6,421.91 263.5,421.78 264.4,421.65 265.3,421.51 266.2,421.38 267.1,421.24 268,421.09 268.9,420.95 269.8,420.8 270.7,420.65 271.6,420.5 272.5,420.34 273.4,420.18 274.3,420.02 275.2,419.86 276.1,419.7 277,419.53 277.9,419.36 278.8,419.18 279.7,419.01 280.6,418.83 281.5,418.65 282.4,418.47 283.3,418.28 284.2,418.09 285.1,417.9 286,417.7 286.9,417.5 287.8,417.3 288.7,417.1 289.6,416.89 290.5,416.68 291.4,416.47 292.3,416.25 293.2,416.03 294.1,415.81 295,415.57 295.9,415.33 296.8,415.09 297.7,414.83 298.6,414.57 299.5,414.3 300.4,414.01 301.3,413.72 302.2,413.41 303.1,413.1 304,412.77 304.9,412.42 305.8,412.07 306.7,411.69 307.6,411.3 308.5,410.9 309.4,410.48 310.3,410.04 311.2,409.58 312.1,409.11 313,408.61 313.9,408.1 314.8,407.56 315.7,407 316.6,406.43 317.5,405.83 318.4,405.2 319.3,404.56 320.2,403.9 321.1,403.21 322,402.5 322.9,401.77 323.8,401.01 324.7,400.23 325.6,399.43 326.5,398.6 327.4,397.74 328.3,396.86 329.2,395.95 330.1,395.01 331,394.04 331.9,393.04 332.5,392.36 333.1,391.67 333.7,390.95 334.3,390.23 334.9,389.48 335.5,388.72 336.1,387.93 336.7,387.13 337.3,386.3 337.9,385.45 338.5,384.57 339.1,383.67 339.7,382.74 340.3,381.78 340.9,380.78 341.5,379.75 342.1,378.67 342.7,377.54 343.3,376.36 343.9,375.11 344.5,373.81 345.1,372.43 345.7,371 346.3,369.5 346.9,367.97 347.5,366.4 348.1,364.81 348.7,363.2 349.3,361.6 349.9,360 350.5,358.42 351.1,356.84 351.7,355.26 352.3,353.68 352.9,352.1 353.5,350.51 354.1,348.91 354.7,347.3 355.3,345.66 355.9,344.02 356.5,342.36 357.1,340.7 357.7,339.03 358.3,337.35 358.9,335.67 359.5,333.98 360.1,332.3 360.7,330.62 361.3,328.94 361.9,327.27 362.5,325.6 363.1,323.95 363.7,322.31 364.3,320.68 364.9,319.06 365.5,317.46 366.1,315.86 366.7,314.28 367.3,312.7 367.9,311.13 368.5,309.56 369.1,307.99 369.7,306.42 370.3,304.85 370.9,303.27 371.5,301.68 372.1,300.09 372.7,298.49 373.3,296.89 373.9,295.28 374.5,293.67 375.1,292.05 375.7,290.44 376.3,288.83 376.9,287.22 377.5,285.62 378.1,284.02 378.7,282.43 379.3,280.86 379.9,279.3 380.5,277.76 381.1,276.25 381.7,274.77 382.3,273.33 382.9,271.93 383.5,270.58 384.1,269.28 384.7,268.03 385.3,266.84 385.9,265.71 386.5,264.65 387.1,263.64 387.7,262.69 388.3,261.78 388.9,260.92 389.5,260.1 390.1,259.32 390.7,258.57 391.3,257.86 391.9,257.17 392.8,256.18 393.7,255.24 394.6,254.33 395.5,253.46 396.4,252.62 397.3,251.79 398.2,250.97 398.4,250.79" fill="none" stroke="#ff0000" stroke-width="2.3" stroke-dasharray="5,3" stroke-linejoin="round" stroke-linecap="butt"/>
<path d="M163.8,422.9 164.7,422.8 165.6,422.7 166.5,422.6 167.4,422.48 168.3,422.34 169.2,422.2 170.1,422.02 171,421.83 171.9,421.61 172.8,421.35 173.7,421.07 174.6,420.74 175.5,420.38 176.4,419.98 177.3,419.54 178.2,419.06 179.1,418.54 180,417.98 180.9,417.38 181.8,416.74 182.7,416.06 183.6,415.33 184.5,414.55 185.4,413.72 186.3,412.8 187.2,411.78 187.8,411.05 188.4,410.25 189,409.39 189.6,408.47 190.2,407.47 190.8,406.4 191.4,405.25 192,404.02 192.6,402.71 193.2,401.32 193.8,399.85 194.4,398.31 195,396.69 195.6,395 195.9,394.13 196.2,393.24 196.5,392.33 196.8,391.41 197.1,390.47 197.4,389.5 197.7,388.52 198,387.52 198.3,386.49 198.6,385.45 198.9,384.38 199.2,383.28 199.5,382.16 199.8,381.02 200.1,379.84 200.4,378.64 200.7,377.41 201,376.15 201.3,374.86 201.6,373.54 201.9,372.18 202.2,370.79 202.5,369.37 202.8,367.91 203.1,366.42 203.4,364.89 203.7,363.31 204,361.71 204.3,360.06 204.6,358.38 204.9,356.67 205.2,354.94 205.5,353.17 205.8,351.38 206.1,349.57 206.4,347.73 206.7,345.88 207,344.01 207.3,342.13 207.6,340.23 207.9,338.33 208.2,336.42 208.5,334.5 208.8,332.56 209.1,330.62 209.4,328.66 209.7,326.68 210,324.69 210.3,322.68 210.6,320.65 210.9,318.6 211.2,316.52 211.5,314.43 211.8,312.31 212.1,310.16 212.4,307.99 212.7,305.81 213,303.62 213.3,301.44 213.6,299.28 213.9,297.15 214.2,295.07 214.5,293.03 214.8,291.05 215.1,289.15 215.4,287.33 215.7,285.6 216,283.97 216.3,282.44 216.6,281.01 216.9,279.66 217.2,278.39 217.5,277.21 217.8,276.09 218.1,275.04 218.4,274.05 218.7,273.12 219,272.23 219.6,270.6 220.2,269.13 220.8,267.81 221.4,266.63 222,265.57 222.6,264.61 223.2,263.75 223.8,262.96 224.4,262.25 225.3,261.3 226.2,260.47 227.1,259.76 228,259.15 228.9,258.61 229.8,258.14 230.7,257.72 231.6,257.33 232.5,256.99 233.4,256.68 234.3,256.4 235.2,256.15 236.1,255.92 237,255.72 237.9,255.53 238.8,255.36 239.7,255.2 240.6,255.06 241.5,254.93 242.4,254.8 243.3,254.69 244.2,254.59 245.1,254.5 246,254.41 246.9,254.34 247.8,254.27 248.7,254.2 249.6,254.15 250.5,254.1 251.4,254.05 252.3,254.01 253.2,253.97 254.1,253.93 255,253.9 255.9,253.87 256.8,253.84 257.7,253.81 258.6,253.79 259.5,253.76 260.4,253.74 261.3,253.72 262.2,253.7 263.1,253.68 264,253.66 264.9,253.65 265.8,253.63 266.7,253.62 267.6,253.61 268.5,253.6 269.4,253.59 270.3,253.58 271.2,253.58 272.1,253.57 273,253.56 273.9,253.56 274.8,253.56 275.7,253.56 276.6,253.56 277.5,253.56 278.4,253.56 279.3,253.56 280.2,253.56 281.1,253.56 282,253.57 282.9,253.57 283.8,253.57 284.7,253.58 285.6,253.59 286.5,253.59 287.4,253.6 288.3,253.6 289.2,253.61 290.1,253.62 291,253.63 291.9,253.63 292.8,253.64 293.7,253.65 294.6,253.66 295.5,253.66 296.4,253.67 297.3,253.68 298.2,253.69 299.1,253.69 300,253.7 300.9,253.71 301.8,253.71 302.7,253.72 303.6,253.73 304.5,253.73 305.4,253.74 306.3,253.74 307.2,253.75 308.1,253.75 309,253.76 309.9,253.76 310.8,253.77 311.7,253.77 312.6,253.77 313.5,253.78 314.4,253.78 315.3,253.78 316.2,253.79 317.1,253.79 318,253.79 318.9,253.79 319.8,253.8 320.7,253.8 321.6,253.8 322.5,253.8 323.4,253.8 324.3,253.8 325.2,253.81 326.1,253.81 327,253.81 327.9,253.81 328.8,253.81 329.7,253.81 330.6,253.81 331.5,253.81 332.4,253.81 333.3,253.81 334.2,253.81 335.1,253.81 336,253.81 336.9,253.81 337.8,253.81 338.7,253.8 339.6,253.8 340.5,253.8 341.4,253.8 342.3,253.8 343.2,253.8 344.1,253.8 345,253.79 345.9,253.79 346.8,253.79 347.7,253.79 348.6,253.79 349.5,253.78 350.4,253.78 351.3,253.78 352.2,253.78 353.1,253.77 354,253.77 354.9,253.77 355.8,253.76 356.7,253.76 357.6,253.76 358.5,253.76 359.4,253.75 360.3,253.75 361.2,253.75 362.1,253.74 363,253.74 363.9,253.74 364.8,253.73 365.7,253.73 366.6,253.73 367.5,253.72 368.4,253.72 369.3,253.72 370.2,253.71 371.1,253.71 372,253.71 372.9,253.7 373.7,253.7" fill="none" stroke="#0000d8" stroke-width="2.3" stroke-linejoin="round" stroke-linecap="butt"/>
<path d="M179.8,422.6 180.7,422.53 181.6,422.46 182.5,422.39 183.4,422.32 184.3,422.24 185.2,422.17 186.1,422.08 187,422 187.9,421.91 188.8,421.81 189.7,421.71 190.6,421.61 191.5,421.49 192.4,421.37 193.3,421.25 194.2,421.11 195.1,420.96 196,420.81 196.9,420.63 197.8,420.45 198.7,420.25 199.6,420.03 200.5,419.8 201.4,419.54 202.3,419.26 203.2,418.96 204.1,418.63 205,418.28 205.9,417.9 206.8,417.49 207.7,417.05 208.6,416.58 209.5,416.07 210.4,415.54 211.3,414.99 212.2,414.42 213.1,413.84 214,413.24 214.9,412.65 215.8,412.05 216.7,411.46 217.6,410.88 218.5,410.31 219.4,409.77 220.3,409.24 221.2,408.73 222.1,408.22 223,407.69 223.9,407.12 224.8,406.5 225.7,405.8 226.6,405.02 227.5,404.13 228.4,403.11 229,402.36 229.6,401.53 230.2,400.64 230.8,399.66 231.4,398.63 232,397.53 232.6,396.37 233.2,395.17 233.8,393.94 234.4,392.67 235,391.37 235.6,390.06 236.2,388.73 236.8,387.41 237.4,386.08 238,384.77 238.6,383.47 239.2,382.19 239.8,380.93 240.4,379.69 241,378.46 241.6,377.27 242.2,376.09 242.8,374.89 243.4,373.65 244,372.32 244.6,370.87 245.2,369.28 245.5,368.42 245.8,367.5 246.1,366.55 246.4,365.55 246.7,364.51 247,363.45 247.3,362.35 247.6,361.23 247.9,360.08 248.2,358.91 248.5,357.73 248.8,356.54 249.1,355.34 249.4,354.13 249.7,352.92 250,351.7 250.3,350.47 250.6,349.24 250.9,348 251.2,346.76 251.5,345.5 251.8,344.24 252.1,342.98 252.4,341.7 252.7,340.42 253,339.13 253.3,337.83 253.6,336.53 253.9,335.22 254.2,333.9 254.5,332.57 254.8,331.24 255.1,329.91 255.4,328.57 255.7,327.24 256,325.89 256.3,324.55 256.6,323.21 256.9,321.87 257.2,320.52 257.5,319.18 257.8,317.84 258.1,316.51 258.4,315.18 258.7,313.85 259,312.52 259.3,311.2 259.6,309.89 259.9,308.58 260.2,307.28 260.5,305.99 260.8,304.71 261.1,303.44 261.4,302.18 261.7,300.93 262,299.69 262.3,298.47 262.6,297.26 262.9,296.06 263.2,294.89 263.5,293.73 263.8,292.58 264.1,291.46 264.4,290.35 264.7,289.27 265,288.21 265.3,287.17 265.6,286.15 265.9,285.16 266.2,284.19 266.5,283.25 266.8,282.33 267.1,281.44 267.4,280.58 268,278.92 268.6,277.35 269.2,275.86 269.8,274.45 270.4,273.12 271,271.86 271.6,270.66 272.2,269.53 272.8,268.47 273.4,267.46 274,266.52 274.6,265.62 275.2,264.79 275.8,264 276.4,263.26 277,262.56 277.9,261.6 278.8,260.72 279.7,259.92 280.6,259.19 281.5,258.52 282.4,257.91 283.3,257.35 284.2,256.84 285.1,256.38 286,255.96 286.9,255.59 287.8,255.25 288.7,254.95 289.6,254.68 290.5,254.45 291.4,254.24 292.3,254.05 293.2,253.89 294.1,253.76 295,253.64 295.9,253.55 296.8,253.47 297.7,253.41 298.6,253.37 299.5,253.35 300.4,253.34 301.3,253.34 302.2,253.36 303.1,253.38 304,253.42 304.9,253.46 305.8,253.51 306.7,253.56 307.6,253.63 308.5,253.69 309.4,253.75 310,253.8" fill="none" stroke="#0000d8" stroke-width="2.3" stroke-dasharray="5,3" stroke-linejoin="round" stroke-linecap="butt"/>
<text x="15" y="147.86" font-size="11.8" fill="#000" stroke="#000" text-anchor="end" textLength="10.15" lengthAdjust="spacingAndGlyphs">10</text>
<text x="15.5" y="141.66" font-size="7.4" fill="#000" stroke="#000" text-anchor="start">5</text>
<text x="15" y="84.63" font-size="11.8" fill="#000" stroke="#000" text-anchor="end" textLength="10.15" lengthAdjust="spacingAndGlyphs">10</text>
<text x="15.5" y="78.43" font-size="7.4" fill="#000" stroke="#000" text-anchor="start">6</text>
<text x="15" y="21.4" font-size="11.8" fill="#000" stroke="#000" text-anchor="end" textLength="10.15" lengthAdjust="spacingAndGlyphs">10</text>
<text x="15.5" y="15.2" font-size="7.4" fill="#000" stroke="#000" text-anchor="start">7</text>
<text x="239.4" y="186.5" font-size="11.6" fill="#000" stroke="#000" text-anchor="start">0</text>
<text x="239.4" y="153.62" font-size="11.6" fill="#000" stroke="#000" text-anchor="start">0.2</text>
<text x="239.4" y="120.74" font-size="11.6" fill="#000" stroke="#000" text-anchor="start">0.4</text>
<text x="239.4" y="87.86" font-size="11.6" fill="#000" stroke="#000" text-anchor="start">0.6</text>
<text x="239.4" y="54.98" font-size="11.6" fill="#000" stroke="#000" text-anchor="start">0.8</text>
<text x="239.4" y="22.1" font-size="11.6" fill="#000" stroke="#000" text-anchor="start">1</text>
<text x="24.4" y="198.4" font-size="11.6" fill="#000" stroke="#000" text-anchor="middle">0</text>
<text x="66.24" y="198.4" font-size="11.6" fill="#000" stroke="#000" text-anchor="middle">0.2</text>
<text x="108.08" y="198.4" font-size="11.6" fill="#000" stroke="#000" text-anchor="middle">0.4</text>
<text x="149.92" y="198.4" font-size="11.6" fill="#000" stroke="#000" text-anchor="middle">0.6</text>
<text x="191.76" y="198.4" font-size="11.6" fill="#000" stroke="#000" text-anchor="middle">0.8</text>
<text x="233.6" y="198.4" font-size="11.6" fill="#000" stroke="#000" text-anchor="middle">1</text>
<text x="27.5" y="31" font-size="11.15" fill="#000" stroke="#000" text-anchor="start">Storage Modulus (Pa)</text>
<text x="141" y="29.2" font-size="11.3" fill="#000" stroke="#000" text-anchor="start">(a)</text>
<text x="181" y="27.6" font-size="11.15" fill="#000" stroke="#000" text-anchor="start">Probability</text>
<text x="141.4" y="216.2" font-size="10.9" fill="#000" stroke="#000" text-anchor="start">Transformed fraction <tspan dx="1.3">(</tspan><tspan dx="-2.2">&#945;</tspan><tspan dx="0.4">)</tspan></text>
<path d="M158.1,128.1 H179.2" stroke="#ff0000" stroke-width="2.3"/>
<text x="182" y="132.4" font-size="11.0" fill="#ff0000" stroke="#ff0000" text-anchor="start">135 &#176;C</text>
<path d="M163.1,139.9 H169.1 M172.6,139.9 H179.2" stroke="#ff0000" stroke-width="2.3"/>
<text x="182" y="144.2" font-size="11.0" fill="#ff0000" stroke="#ff0000" text-anchor="start">132.5 &#176;C</text>
<path d="M158.1,151.7 H179.2" stroke="#0000d8" stroke-width="2.3"/>
<text x="182" y="156" font-size="11.0" fill="#0000d8" stroke="#0000d8" text-anchor="start">130 &#176;C</text>
<path d="M163.1,163.5 H169.1 M172.6,163.5 H179.2" stroke="#0000d8" stroke-width="2.3"/>
<text x="182" y="167.8" font-size="11.0" fill="#0000d8" stroke="#0000d8" text-anchor="start">127.5 &#176;C</text>
<path d="M158.1,175.3 H179.2" stroke="#000000" stroke-width="2.3"/>
<text x="182" y="179.6" font-size="11.0" fill="#000000" stroke="#000000" text-anchor="start">125 &#176;C</text>
<path d="M178.2,79.2 H184.2 M187.7,79.2 H194.3" stroke="#b6b6b6" stroke-width="2"/>
<text x="197" y="83.9" font-size="11.2" fill="#b6b6b6" stroke="#b6b6b6" text-anchor="start">P</text>
<text x="203.6" y="90.2" font-size="7.6" fill="#b6b6b6" stroke="#b6b6b6" text-anchor="start">2</text>
<text x="206.6" y="83.9" font-size="11.2" fill="#b6b6b6" stroke="#b6b6b6" text-anchor="start">+P</text>
<text x="219.4" y="90.2" font-size="7.6" fill="#b6b6b6" stroke="#b6b6b6" text-anchor="start">1</text>
<text x="299" y="147.65" font-size="11.8" fill="#000" stroke="#000" text-anchor="end" textLength="10.15" lengthAdjust="spacingAndGlyphs">10</text>
<text x="299.5" y="141.45" font-size="7.4" fill="#000" stroke="#000" text-anchor="start">5</text>
<text x="299" y="82.72" font-size="11.8" fill="#000" stroke="#000" text-anchor="end" textLength="10.15" lengthAdjust="spacingAndGlyphs">10</text>
<text x="299.5" y="76.52" font-size="7.4" fill="#000" stroke="#000" text-anchor="start">6</text>
<text x="299" y="17.8" font-size="11.8" fill="#000" stroke="#000" text-anchor="end" textLength="10.15" lengthAdjust="spacingAndGlyphs">10</text>
<text x="299.5" y="11.6" font-size="7.4" fill="#000" stroke="#000" text-anchor="start">7</text>
<text x="530.6" y="187.3" font-size="11.6" fill="#000" stroke="#000" text-anchor="start">0</text>
<text x="530.6" y="153.54" font-size="11.6" fill="#000" stroke="#000" text-anchor="start">0.2</text>
<text x="530.6" y="119.78" font-size="11.6" fill="#000" stroke="#000" text-anchor="start">0.4</text>
<text x="530.6" y="86.02" font-size="11.6" fill="#000" stroke="#000" text-anchor="start">0.6</text>
<text x="530.6" y="52.26" font-size="11.6" fill="#000" stroke="#000" text-anchor="start">0.8</text>
<text x="530.6" y="18.5" font-size="11.6" fill="#000" stroke="#000" text-anchor="start">1</text>
<text x="308.4" y="199.6" font-size="11.6" fill="#000" stroke="#000" text-anchor="middle">0</text>
<text x="351.68" y="199.6" font-size="11.6" fill="#000" stroke="#000" text-anchor="middle">0.2</text>
<text x="394.96" y="199.6" font-size="11.6" fill="#000" stroke="#000" text-anchor="middle">0.4</text>
<text x="438.24" y="199.6" font-size="11.6" fill="#000" stroke="#000" text-anchor="middle">0.6</text>
<text x="481.52" y="199.6" font-size="11.6" fill="#000" stroke="#000" text-anchor="middle">0.8</text>
<text x="524.8" y="199.6" font-size="11.6" fill="#000" stroke="#000" text-anchor="middle">1</text>
<text x="312.7" y="27.6" font-size="11.35" fill="#000" stroke="#000" text-anchor="start">Loss Modulus (Pa)</text>
<text x="433.3" y="30.6" font-size="11.3" fill="#000" stroke="#000" text-anchor="start">(b)</text>
<text x="469.6" y="24.3" font-size="11.3" fill="#000" stroke="#000" text-anchor="start">Probability</text>
<text x="429.8" y="216.8" font-size="11.1" fill="#000" stroke="#000" text-anchor="start">Transformed fraction <tspan dx="1.3">(</tspan><tspan dx="-2.2">&#945;</tspan><tspan dx="0.4">)</tspan></text>
<path d="M324,40.5 H345.3" stroke="#ff0000" stroke-width="2.3"/>
<text x="348.8" y="44.8" font-size="11.3" fill="#ff0000" stroke="#ff0000" text-anchor="start">135 &#176;C</text>
<path d="M329,52.5 H335 M338.5,52.5 H345.3" stroke="#ff0000" stroke-width="2.3"/>
<text x="348.8" y="56.8" font-size="11.3" fill="#ff0000" stroke="#ff0000" text-anchor="start">132.5 &#176;C</text>
<path d="M324,64.5 H345.3" stroke="#0000d8" stroke-width="2.3"/>
<text x="348.8" y="68.8" font-size="11.3" fill="#0000d8" stroke="#0000d8" text-anchor="start">130 &#176;C</text>
<path d="M329,76.5 H335 M338.5,76.5 H345.3" stroke="#0000d8" stroke-width="2.3"/>
<text x="348.8" y="80.8" font-size="11.3" fill="#0000d8" stroke="#0000d8" text-anchor="start">127.5 &#176;C</text>
<path d="M324,88.5 H345.3" stroke="#000000" stroke-width="2.3"/>
<text x="348.8" y="92.8" font-size="11.3" fill="#000000" stroke="#000000" text-anchor="start">125 &#176;C</text>
<path d="M467.1,77.6 H474 M477.4,77.6 H484" stroke="#b6b6b6" stroke-width="2"/>
<text x="487" y="81.4" font-size="11.0" fill="#b6b6b6" stroke="#b6b6b6" text-anchor="start">P</text>
<text x="493.2" y="87.9" font-size="7.4" fill="#b6b6b6" stroke="#b6b6b6" text-anchor="start">2</text>
<text x="496.9" y="81.4" font-size="11.0" fill="#b6b6b6" stroke="#b6b6b6" text-anchor="start">+P</text>
<text x="509.9" y="87.9" font-size="7.4" fill="#b6b6b6" stroke="#b6b6b6" text-anchor="start">1</text>
<text x="144.2" y="386.15" font-size="13.0" fill="#000" stroke="#000" text-anchor="end">10</text>
<text x="144.7" y="380.15" font-size="8.0" fill="#000" stroke="#000" text-anchor="start">5</text>
<text x="144.2" y="313.22" font-size="13.0" fill="#000" stroke="#000" text-anchor="end">10</text>
<text x="144.7" y="307.22" font-size="8.0" fill="#000" stroke="#000" text-anchor="start">6</text>
<text x="144.2" y="240.3" font-size="13.0" fill="#000" stroke="#000" text-anchor="end">10</text>
<text x="144.7" y="234.3" font-size="8.0" fill="#000" stroke="#000" text-anchor="start">7</text>
<text x="153.6" y="445.6" font-size="12.3" fill="#000" stroke="#000" text-anchor="middle">0</text>
<text x="192.83" y="445.6" font-size="12.3" fill="#000" stroke="#000" text-anchor="middle">20</text>
<text x="232.06" y="445.6" font-size="12.3" fill="#000" stroke="#000" text-anchor="middle">40</text>
<text x="271.29" y="445.6" font-size="12.3" fill="#000" stroke="#000" text-anchor="middle">60</text>
<text x="310.52" y="445.6" font-size="12.3" fill="#000" stroke="#000" text-anchor="middle">80</text>
<text x="349.75" y="445.6" font-size="12.3" fill="#000" stroke="#000" text-anchor="middle">100</text>
<text x="388.98" y="445.6" font-size="12.3" fill="#000" stroke="#000" text-anchor="middle">120</text>
<text x="156" y="249.1" font-size="13" fill="#000" stroke="#000" text-anchor="start">Storage Modulus (Pa)</text>
<text x="288.5" y="249.1" font-size="13" fill="#000" stroke="#000" text-anchor="start">(c)</text>
<text x="326.4" y="460.5" font-size="12.8" fill="#000" stroke="#000" text-anchor="start">&lt;R&gt; (-) or N (-)</text>
<rect x="194.6" y="286" width="46" height="23.2" fill="#fff"/>
<text x="217.6" y="296" font-size="10.3" fill="#0000d8" stroke="#0000d8" text-anchor="middle">127.5&#176;C</text>
<text x="217.6" y="306.2" font-size="10.3" fill="#0000d8" stroke="#0000d8" text-anchor="middle">G' vs. &lt;R&gt;</text>
<rect x="245.2" y="282.8" width="36" height="23.8" fill="#fff"/>
<text x="263.2" y="292.8" font-size="10.3" fill="#0000d8" stroke="#0000d8" text-anchor="middle">127.5&#176;C</text>
<text x="263.2" y="303.6" font-size="10.3" fill="#0000d8" stroke="#0000d8" text-anchor="middle">G' vs. N</text>
<rect x="280.1" y="323.3" width="46" height="24.5" fill="#fff"/>
<text x="303.1" y="333.3" font-size="10.3" fill="#ff0000" stroke="#ff0000" text-anchor="middle">135&#176;C</text>
<text x="303.1" y="344.8" font-size="10.3" fill="#ff0000" stroke="#ff0000" text-anchor="middle">G' vs. &lt;R&gt;</text>
<rect x="338.5" y="323.3" width="36" height="23.9" fill="#fff"/>
<text x="356.5" y="333.3" font-size="10.3" fill="#ff0000" stroke="#ff0000" text-anchor="middle">135&#176;C</text>
<text x="356.5" y="344.2" font-size="10.3" fill="#ff0000" stroke="#ff0000" text-anchor="middle">G' vs. N</text>
</svg>
</body></html>
